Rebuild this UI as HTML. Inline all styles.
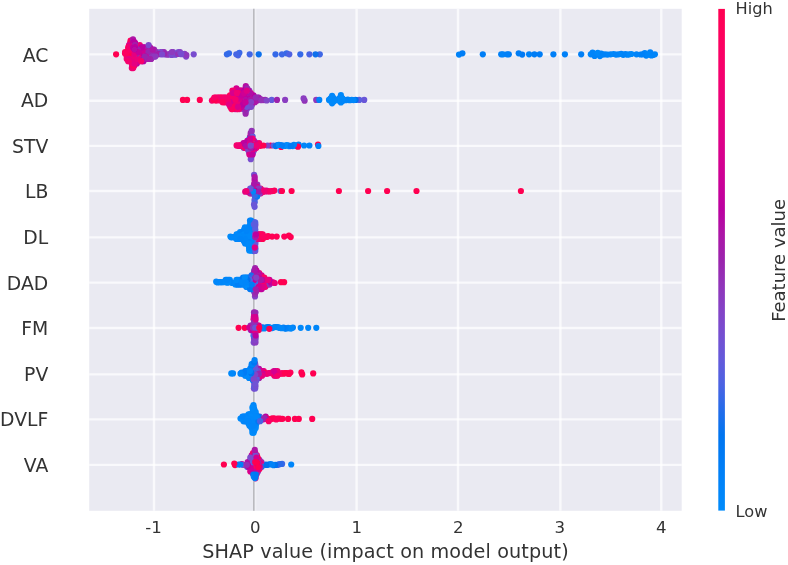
<!DOCTYPE html>
<html><head><meta charset="utf-8"><title>SHAP summary plot</title>
<style>
html,body{margin:0;padding:0;background:#fff;}
body{width:788px;height:565px;overflow:hidden;}
svg{display:block;}
text{font-family:"DejaVu Sans","Liberation Sans",sans-serif;fill:#333;}
.fn{font-size:18.8px;text-anchor:end;}
.tk{font-size:16.6px;text-anchor:middle;}
.xl{font-size:19.2px;text-anchor:middle;letter-spacing:0.13px;}
.cb{font-size:16.2px;}
.cl{font-size:18px;text-anchor:middle;}
</style></head><body>
<svg width="788" height="565" viewBox="0 0 788 565">
<defs><linearGradient id="cb" x1="0" y1="1" x2="0" y2="0">
<stop offset="0.00" stop-color="#008bfb"/>
<stop offset="0.05" stop-color="#0084f9"/>
<stop offset="0.10" stop-color="#007cf5"/>
<stop offset="0.15" stop-color="#0075f0"/>
<stop offset="0.20" stop-color="#246cea"/>
<stop offset="0.25" stop-color="#4b63e3"/>
<stop offset="0.30" stop-color="#635adb"/>
<stop offset="0.35" stop-color="#754fd1"/>
<stop offset="0.40" stop-color="#8443c6"/>
<stop offset="0.45" stop-color="#9135ba"/>
<stop offset="0.50" stop-color="#9b24ad"/>
<stop offset="0.55" stop-color="#ac16a7"/>
<stop offset="0.60" stop-color="#bb00a0"/>
<stop offset="0.65" stop-color="#c90098"/>
<stop offset="0.70" stop-color="#d5008f"/>
<stop offset="0.75" stop-color="#e00086"/>
<stop offset="0.80" stop-color="#e9007c"/>
<stop offset="0.85" stop-color="#f20072"/>
<stop offset="0.90" stop-color="#f90067"/>
<stop offset="0.95" stop-color="#fe005c"/>
<stop offset="1.00" stop-color="#ff0051"/>
</linearGradient><filter id="bl" x="-5%" y="-5%" width="110%" height="110%"><feGaussianBlur stdDeviation="0.45"/></filter></defs>
<rect x="0" y="0" width="788" height="565" fill="#fff"/>
<rect x="89.2" y="8.8" width="592.5" height="502.0" fill="#eaeaf2"/>
<g stroke="#fff" stroke-width="2.4" stroke-opacity="0.72" fill="none">
<line x1="154.0" y1="8.8" x2="154.0" y2="510.8"/>
<line x1="356.6" y1="8.8" x2="356.6" y2="510.8"/>
<line x1="458.0" y1="8.8" x2="458.0" y2="510.8"/>
<line x1="560.4" y1="8.8" x2="560.4" y2="510.8"/>
<line x1="661.3" y1="8.8" x2="661.3" y2="510.8"/>
<line x1="89.2" y1="54.4" x2="681.7" y2="54.4"/>
<line x1="89.2" y1="100.8" x2="681.7" y2="100.8"/>
<line x1="89.2" y1="145.9" x2="681.7" y2="145.9"/>
<line x1="89.2" y1="191.0" x2="681.7" y2="191.0"/>
<line x1="89.2" y1="237.4" x2="681.7" y2="237.4"/>
<line x1="89.2" y1="282.6" x2="681.7" y2="282.6"/>
<line x1="89.2" y1="328.0" x2="681.7" y2="328.0"/>
<line x1="89.2" y1="374.4" x2="681.7" y2="374.4"/>
<line x1="89.2" y1="419.4" x2="681.7" y2="419.4"/>
<line x1="89.2" y1="464.9" x2="681.7" y2="464.9"/>
</g>
<line x1="255.7" y1="8.8" x2="255.7" y2="510.8" stroke="#fff" stroke-width="1.5" stroke-opacity="0.3"/>
<line x1="253.8" y1="8.8" x2="253.8" y2="510.8" stroke="#bababf" stroke-width="1.6"/>
<g filter="url(#bl)">
<g>
<circle cx="631.4" cy="54.0" r="3.1" fill="#008bfb"/>
<circle cx="133.2" cy="47.4" r="3.1" fill="#e30083"/>
<circle cx="126.8" cy="54.3" r="3.1" fill="#ff005c"/>
<circle cx="140.6" cy="53.9" r="3.1" fill="#9f21ac"/>
<circle cx="126.8" cy="56.6" r="3.1" fill="#fc0061"/>
<circle cx="596.4" cy="53.9" r="3.1" fill="#0082f8"/>
<circle cx="160.3" cy="54.1" r="3.1" fill="#8443c6"/>
<circle cx="164.0" cy="52.0" r="3.1" fill="#962eb5"/>
<circle cx="601.2" cy="53.7" r="3.1" fill="#0087fa"/>
<circle cx="138.5" cy="56.6" r="3.1" fill="#bb00a0"/>
<circle cx="590.8" cy="54.3" r="3.1" fill="#0086fa"/>
<circle cx="140.8" cy="52.0" r="3.1" fill="#9d23ad"/>
<circle cx="176.3" cy="54.3" r="3.1" fill="#6e54d5"/>
<circle cx="150.1" cy="56.6" r="3.1" fill="#9431b7"/>
<circle cx="640.5" cy="54.5" r="3.1" fill="#0085f9"/>
<circle cx="131.9" cy="63.5" r="3.1" fill="#e7007f"/>
<circle cx="145.8" cy="58.9" r="3.1" fill="#c1009d"/>
<circle cx="459.0" cy="54.6" r="3.1" fill="#0083f8"/>
<circle cx="136.9" cy="61.2" r="3.1" fill="#cb0096"/>
<circle cx="167.1" cy="54.4" r="3.1" fill="#8a3dc1"/>
<circle cx="599.9" cy="56.1" r="3.1" fill="#0084f9"/>
<circle cx="613.6" cy="54.0" r="3.1" fill="#0087fa"/>
<circle cx="594.6" cy="55.9" r="3.1" fill="#0083f8"/>
<circle cx="153.9" cy="54.8" r="3.1" fill="#8b3cc0"/>
<circle cx="133.1" cy="52.0" r="3.1" fill="#fe005c"/>
<circle cx="134.3" cy="52.0" r="3.1" fill="#fb0064"/>
<circle cx="249.7" cy="54.3" r="3.1" fill="#4366e5"/>
<circle cx="137.2" cy="47.4" r="3.1" fill="#d40090"/>
<circle cx="139.6" cy="52.0" r="3.1" fill="#cd0095"/>
<circle cx="627.3" cy="54.7" r="3.1" fill="#0089fa"/>
<circle cx="156.7" cy="52.0" r="3.1" fill="#9135ba"/>
<circle cx="146.2" cy="53.5" r="3.1" fill="#a81aa8"/>
<circle cx="149.8" cy="49.7" r="3.1" fill="#ac16a7"/>
<circle cx="155.3" cy="52.0" r="3.1" fill="#962db4"/>
<circle cx="173.1" cy="52.0" r="3.1" fill="#8245c8"/>
<circle cx="319.8" cy="54.3" r="3.1" fill="#3f67e6"/>
<circle cx="592.6" cy="52.7" r="3.1" fill="#0084f9"/>
<circle cx="135.6" cy="45.1" r="3.1" fill="#da008b"/>
<circle cx="130.2" cy="42.8" r="3.1" fill="#ff0051"/>
<circle cx="133.0" cy="61.2" r="3.1" fill="#d7008d"/>
<circle cx="610.6" cy="54.3" r="3.1" fill="#0087fa"/>
<circle cx="157.7" cy="54.2" r="3.1" fill="#b30da4"/>
<circle cx="145.9" cy="49.7" r="3.1" fill="#c80098"/>
<circle cx="553.4" cy="54.3" r="3.1" fill="#007ff7"/>
<circle cx="151.2" cy="58.9" r="3.1" fill="#9c23ad"/>
<circle cx="155.0" cy="53.9" r="3.1" fill="#aa18a8"/>
<circle cx="139.9" cy="47.4" r="3.1" fill="#e20084"/>
<circle cx="152.5" cy="56.6" r="3.1" fill="#a51caa"/>
<circle cx="129.1" cy="52.0" r="3.1" fill="#ff0051"/>
<circle cx="462.4" cy="53.3" r="3.1" fill="#007ef6"/>
<circle cx="607.5" cy="54.6" r="3.1" fill="#0084f9"/>
<circle cx="142.2" cy="58.9" r="3.1" fill="#d40090"/>
<circle cx="636.5" cy="54.3" r="3.1" fill="#0084f9"/>
<circle cx="581.2" cy="54.3" r="3.1" fill="#007ff6"/>
<circle cx="145.0" cy="58.9" r="3.1" fill="#cb0096"/>
<circle cx="142.0" cy="61.2" r="3.1" fill="#a81aa9"/>
<circle cx="165.5" cy="54.5" r="3.1" fill="#8047ca"/>
<circle cx="644.8" cy="53.1" r="3.1" fill="#0084f9"/>
<circle cx="128.0" cy="56.6" r="3.1" fill="#ff0059"/>
<circle cx="135.9" cy="58.9" r="3.1" fill="#d8008c"/>
<circle cx="564.9" cy="54.3" r="3.1" fill="#0081f8"/>
<circle cx="140.7" cy="47.4" r="3.1" fill="#c80099"/>
<circle cx="131.8" cy="68.1" r="3.1" fill="#f20071"/>
<circle cx="134.6" cy="58.9" r="3.1" fill="#e8007e"/>
<circle cx="135.6" cy="49.7" r="3.1" fill="#ec0079"/>
<circle cx="130.7" cy="45.1" r="3.1" fill="#ff0057"/>
<circle cx="143.5" cy="47.4" r="3.1" fill="#a020ab"/>
<circle cx="534.4" cy="54.3" r="3.1" fill="#007df5"/>
<circle cx="125.1" cy="52.0" r="3.1" fill="#ff0055"/>
<circle cx="135.7" cy="53.9" r="3.1" fill="#b704a2"/>
<circle cx="238.1" cy="55.3" r="3.1" fill="#4a64e3"/>
<circle cx="143.5" cy="49.7" r="3.1" fill="#cc0096"/>
<circle cx="129.1" cy="56.6" r="3.1" fill="#f20071"/>
<circle cx="134.3" cy="65.8" r="3.1" fill="#f30070"/>
<circle cx="621.2" cy="53.9" r="3.1" fill="#0083f8"/>
<circle cx="162.3" cy="52.0" r="3.1" fill="#9332b7"/>
<circle cx="127.8" cy="58.9" r="3.1" fill="#f5006e"/>
<circle cx="134.5" cy="49.7" r="3.1" fill="#e9007d"/>
<circle cx="138.1" cy="47.4" r="3.1" fill="#d10092"/>
<circle cx="135.6" cy="47.4" r="3.1" fill="#c80098"/>
<circle cx="623.2" cy="54.8" r="3.1" fill="#0086f9"/>
<circle cx="132.0" cy="47.4" r="3.1" fill="#f4006f"/>
<circle cx="131.6" cy="56.6" r="3.1" fill="#f6006b"/>
<circle cx="160.4" cy="52.0" r="3.1" fill="#8047ca"/>
<circle cx="131.7" cy="49.7" r="3.1" fill="#f7006a"/>
<circle cx="652.9" cy="54.9" r="3.1" fill="#0084f9"/>
<circle cx="135.5" cy="61.2" r="3.1" fill="#c0009d"/>
<circle cx="650.2" cy="52.3" r="3.1" fill="#0084f9"/>
<circle cx="135.6" cy="63.5" r="3.1" fill="#ff0058"/>
<circle cx="152.3" cy="54.3" r="3.1" fill="#9c23ad"/>
<circle cx="130.2" cy="56.6" r="3.1" fill="#f20072"/>
<circle cx="130.4" cy="47.4" r="3.1" fill="#fa0064"/>
<circle cx="135.9" cy="56.6" r="3.1" fill="#f5006d"/>
<circle cx="131.9" cy="42.8" r="3.1" fill="#fc0060"/>
<circle cx="258.7" cy="54.3" r="3.1" fill="#096fec"/>
<circle cx="136.9" cy="63.5" r="3.1" fill="#bf009e"/>
<circle cx="300.3" cy="54.3" r="3.1" fill="#3469e8"/>
<circle cx="625.3" cy="54.0" r="3.1" fill="#0084f8"/>
<circle cx="141.1" cy="49.7" r="3.1" fill="#c3009b"/>
<circle cx="147.4" cy="52.0" r="3.1" fill="#9530b6"/>
<circle cx="130.6" cy="53.8" r="3.1" fill="#ff0051"/>
<circle cx="142.1" cy="56.6" r="3.1" fill="#da008b"/>
<circle cx="522.2" cy="54.6" r="3.1" fill="#0079f4"/>
<circle cx="131.5" cy="52.0" r="3.1" fill="#f7006a"/>
<circle cx="148.6" cy="49.7" r="3.1" fill="#9530b6"/>
<circle cx="116.1" cy="54.3" r="3.1" fill="#ff0051"/>
<circle cx="130.7" cy="58.9" r="3.1" fill="#ff005c"/>
<circle cx="178.4" cy="52.0" r="3.1" fill="#7450d2"/>
<circle cx="150.1" cy="54.7" r="3.1" fill="#9928b0"/>
<circle cx="184.6" cy="53.8" r="3.1" fill="#8a3ec1"/>
<circle cx="129.3" cy="61.2" r="3.1" fill="#ff0051"/>
<circle cx="508.8" cy="54.3" r="3.1" fill="#007cf5"/>
<circle cx="133.2" cy="45.1" r="3.1" fill="#f80068"/>
<circle cx="129.3" cy="49.7" r="3.1" fill="#fc0062"/>
<circle cx="156.4" cy="53.8" r="3.1" fill="#a020ac"/>
<circle cx="142.1" cy="54.0" r="3.1" fill="#cf0094"/>
<circle cx="134.5" cy="61.2" r="3.1" fill="#f4006f"/>
<circle cx="148.4" cy="47.4" r="3.1" fill="#b011a5"/>
<circle cx="501.2" cy="54.3" r="3.1" fill="#0080f7"/>
<circle cx="132.8" cy="49.7" r="3.1" fill="#f5006d"/>
<circle cx="143.5" cy="52.0" r="3.1" fill="#a31eab"/>
<circle cx="140.9" cy="56.6" r="3.1" fill="#aa18a8"/>
<circle cx="140.7" cy="58.9" r="3.1" fill="#d00093"/>
<circle cx="315.5" cy="54.3" r="3.1" fill="#0d6fec"/>
<circle cx="135.5" cy="52.0" r="3.1" fill="#f6006c"/>
<circle cx="130.6" cy="40.5" r="3.1" fill="#fe005d"/>
<circle cx="150.0" cy="47.4" r="3.1" fill="#b607a2"/>
<circle cx="175.0" cy="54.7" r="3.1" fill="#6d54d6"/>
<circle cx="179.6" cy="53.9" r="3.1" fill="#9135ba"/>
<circle cx="618.4" cy="54.3" r="3.1" fill="#0087fa"/>
<circle cx="139.6" cy="49.7" r="3.1" fill="#c3009c"/>
<circle cx="151.1" cy="52.0" r="3.1" fill="#962eb4"/>
<circle cx="605.0" cy="54.3" r="3.1" fill="#0085f9"/>
<circle cx="150.0" cy="52.0" r="3.1" fill="#9a27af"/>
<circle cx="133.1" cy="56.6" r="3.1" fill="#ff0058"/>
<circle cx="130.7" cy="52.0" r="3.1" fill="#f20072"/>
<circle cx="482.8" cy="54.3" r="3.1" fill="#007ef6"/>
<circle cx="142.3" cy="52.0" r="3.1" fill="#aa18a8"/>
<circle cx="193.7" cy="54.3" r="3.1" fill="#794dcf"/>
<circle cx="133.2" cy="42.8" r="3.1" fill="#f00074"/>
<circle cx="131.7" cy="45.1" r="3.1" fill="#ff0051"/>
<circle cx="147.7" cy="47.4" r="3.1" fill="#a020ac"/>
<circle cx="151.4" cy="49.7" r="3.1" fill="#af13a6"/>
<circle cx="134.2" cy="47.4" r="3.1" fill="#f80069"/>
<circle cx="133.2" cy="68.1" r="3.1" fill="#f10073"/>
<circle cx="138.5" cy="53.6" r="3.1" fill="#be009e"/>
<circle cx="132.0" cy="61.2" r="3.1" fill="#ea007b"/>
<circle cx="128.0" cy="54.0" r="3.1" fill="#ff0055"/>
<circle cx="154.1" cy="52.0" r="3.1" fill="#9e22ac"/>
<circle cx="226.9" cy="54.3" r="3.1" fill="#3569e8"/>
<circle cx="170.3" cy="53.8" r="3.1" fill="#8e39bd"/>
<circle cx="129.0" cy="45.1" r="3.1" fill="#df0087"/>
<circle cx="128.2" cy="47.4" r="3.1" fill="#ff0059"/>
<circle cx="629.4" cy="54.3" r="3.1" fill="#0088fa"/>
<circle cx="129.2" cy="54.5" r="3.1" fill="#ff0058"/>
<circle cx="529.1" cy="54.3" r="3.1" fill="#0082f8"/>
<circle cx="143.6" cy="56.6" r="3.1" fill="#a61ba9"/>
<circle cx="286.6" cy="53.3" r="3.1" fill="#3769e8"/>
<circle cx="131.5" cy="58.9" r="3.1" fill="#f30070"/>
<circle cx="182.8" cy="54.1" r="3.1" fill="#7e49cb"/>
<circle cx="651.5" cy="55.5" r="3.1" fill="#0085f9"/>
<circle cx="125.0" cy="53.5" r="3.1" fill="#fc0061"/>
<circle cx="137.0" cy="56.6" r="3.1" fill="#ff0055"/>
<circle cx="130.7" cy="61.2" r="3.1" fill="#ff005b"/>
<circle cx="239.4" cy="52.8" r="3.1" fill="#3a68e7"/>
<circle cx="152.5" cy="52.0" r="3.1" fill="#aa18a8"/>
<circle cx="503.0" cy="54.3" r="3.1" fill="#0083f8"/>
<circle cx="132.8" cy="58.9" r="3.1" fill="#e10085"/>
<circle cx="139.8" cy="56.6" r="3.1" fill="#f7006a"/>
<circle cx="145.1" cy="54.1" r="3.1" fill="#c5009a"/>
<circle cx="139.8" cy="45.1" r="3.1" fill="#f00074"/>
<circle cx="158.9" cy="54.1" r="3.1" fill="#a21fab"/>
<circle cx="147.6" cy="56.6" r="3.1" fill="#aa18a8"/>
<circle cx="127.9" cy="52.0" r="3.1" fill="#ff0051"/>
<circle cx="138.5" cy="49.7" r="3.1" fill="#8f37bc"/>
<circle cx="597.8" cy="52.9" r="3.1" fill="#0088fa"/>
<circle cx="155.4" cy="56.6" r="3.1" fill="#8c3bbf"/>
<circle cx="518.7" cy="53.3" r="3.1" fill="#007df5"/>
<circle cx="173.5" cy="54.2" r="3.1" fill="#7c4acd"/>
<circle cx="134.4" cy="42.8" r="3.1" fill="#fa0066"/>
<circle cx="151.4" cy="56.6" r="3.1" fill="#9928b0"/>
<circle cx="151.2" cy="53.8" r="3.1" fill="#972bb3"/>
<circle cx="128.2" cy="49.7" r="3.1" fill="#ff0051"/>
<circle cx="168.5" cy="54.6" r="3.1" fill="#9135ba"/>
<circle cx="154.1" cy="49.7" r="3.1" fill="#962db4"/>
<circle cx="289.3" cy="54.3" r="3.1" fill="#5062e2"/>
<circle cx="133.4" cy="54.3" r="3.1" fill="#f5006e"/>
<circle cx="126.7" cy="58.9" r="3.1" fill="#f4006e"/>
<circle cx="507.0" cy="54.3" r="3.1" fill="#0080f7"/>
<circle cx="138.3" cy="61.2" r="3.1" fill="#c60099"/>
<circle cx="171.6" cy="55.0" r="3.1" fill="#7a4cce"/>
<circle cx="148.6" cy="56.6" r="3.1" fill="#9332b8"/>
<circle cx="139.8" cy="58.9" r="3.1" fill="#db008a"/>
<circle cx="539.7" cy="54.3" r="3.1" fill="#007df6"/>
<circle cx="143.5" cy="61.2" r="3.1" fill="#b705a2"/>
<circle cx="616.0" cy="54.6" r="3.1" fill="#0085f9"/>
<circle cx="236.3" cy="54.3" r="3.1" fill="#4465e5"/>
<circle cx="138.4" cy="58.9" r="3.1" fill="#cf0093"/>
<circle cx="178.1" cy="54.0" r="3.1" fill="#9431b7"/>
<circle cx="129.5" cy="47.4" r="3.1" fill="#f10073"/>
<circle cx="144.9" cy="49.7" r="3.1" fill="#cc0096"/>
<circle cx="646.2" cy="55.6" r="3.1" fill="#0082f8"/>
<circle cx="147.6" cy="55.0" r="3.1" fill="#b803a1"/>
<circle cx="145.8" cy="52.0" r="3.1" fill="#bf009e"/>
<circle cx="171.9" cy="52.0" r="3.1" fill="#8d3abe"/>
<circle cx="144.9" cy="47.4" r="3.1" fill="#bb00a0"/>
<circle cx="143.3" cy="58.9" r="3.1" fill="#b110a5"/>
<circle cx="147.4" cy="49.7" r="3.1" fill="#a41daa"/>
<circle cx="132.1" cy="65.8" r="3.1" fill="#e50081"/>
<circle cx="132.1" cy="54.0" r="3.1" fill="#ff0051"/>
<circle cx="129.3" cy="58.9" r="3.1" fill="#e7007f"/>
<circle cx="137.3" cy="52.0" r="3.1" fill="#f5006d"/>
<circle cx="148.5" cy="53.8" r="3.1" fill="#8d3abe"/>
<circle cx="186.1" cy="56.6" r="3.1" fill="#8047ca"/>
<circle cx="126.7" cy="52.0" r="3.1" fill="#fd0060"/>
<circle cx="654.9" cy="54.3" r="3.1" fill="#0085f9"/>
<circle cx="164.0" cy="53.7" r="3.1" fill="#9a26af"/>
<circle cx="282.0" cy="54.3" r="3.1" fill="#3c68e7"/>
<circle cx="133.1" cy="65.8" r="3.1" fill="#fd005e"/>
<circle cx="309.4" cy="54.3" r="3.1" fill="#4964e4"/>
<circle cx="139.7" cy="54.0" r="3.1" fill="#ea007c"/>
<circle cx="134.4" cy="56.6" r="3.1" fill="#ee0077"/>
<circle cx="275.5" cy="54.3" r="3.1" fill="#3669e8"/>
<circle cx="154.0" cy="56.6" r="3.1" fill="#8f38bd"/>
<circle cx="186.4" cy="55.0" r="3.1" fill="#8f38bc"/>
<circle cx="143.7" cy="54.5" r="3.1" fill="#be009e"/>
<circle cx="142.0" cy="49.7" r="3.1" fill="#c90098"/>
<circle cx="180.0" cy="52.0" r="3.1" fill="#8542c5"/>
<circle cx="144.7" cy="52.0" r="3.1" fill="#ce0094"/>
<circle cx="642.6" cy="54.3" r="3.1" fill="#0081f8"/>
<circle cx="148.6" cy="45.1" r="3.1" fill="#7e49cb"/>
<circle cx="148.5" cy="52.0" r="3.1" fill="#9928b0"/>
<circle cx="148.7" cy="58.9" r="3.1" fill="#9928b0"/>
<circle cx="648.2" cy="54.7" r="3.1" fill="#0086f9"/>
<circle cx="132.8" cy="63.5" r="3.1" fill="#f3006f"/>
<circle cx="145.9" cy="56.6" r="3.1" fill="#c3009b"/>
<circle cx="150.1" cy="58.9" r="3.1" fill="#9d23ad"/>
<circle cx="141.9" cy="47.4" r="3.1" fill="#bc009f"/>
<circle cx="134.6" cy="63.5" r="3.1" fill="#e50081"/>
<circle cx="137.1" cy="58.9" r="3.1" fill="#eb007b"/>
<circle cx="162.1" cy="54.4" r="3.1" fill="#7c4acd"/>
<circle cx="147.5" cy="58.9" r="3.1" fill="#a71ba9"/>
<circle cx="152.8" cy="49.7" r="3.1" fill="#ac16a7"/>
<circle cx="130.7" cy="49.7" r="3.1" fill="#f7006b"/>
<circle cx="136.8" cy="53.5" r="3.1" fill="#9f21ac"/>
<circle cx="137.3" cy="49.7" r="3.1" fill="#9b24ae"/>
<circle cx="229.0" cy="53.3" r="3.1" fill="#316ae9"/>
<circle cx="128.1" cy="61.2" r="3.1" fill="#f5006d"/>
<circle cx="602.6" cy="54.6" r="3.1" fill="#0083f8"/>
<circle cx="134.5" cy="54.0" r="3.1" fill="#e60080"/>
<circle cx="144.8" cy="56.6" r="3.1" fill="#9b24ad"/>
<circle cx="181.2" cy="54.2" r="3.1" fill="#774ed0"/>
<circle cx="134.2" cy="45.1" r="3.1" fill="#fc0061"/>
<circle cx="141.1" cy="61.2" r="3.1" fill="#f7006a"/>
<circle cx="138.5" cy="52.0" r="3.1" fill="#c70099"/>
<circle cx="133.0" cy="39.3" r="3.1" fill="#af13a6"/>
<circle cx="133.7" cy="41.4" r="3.1" fill="#b606a2"/>
<circle cx="133.2" cy="43.5" r="3.1" fill="#b803a1"/>
<circle cx="132.9" cy="45.7" r="3.1" fill="#d8008d"/>
<circle cx="133.1" cy="47.8" r="3.1" fill="#c0009d"/>
<circle cx="135.1" cy="42.8" r="3.1" fill="#ba00a0"/>
<circle cx="135.0" cy="45.0" r="3.1" fill="#a41daa"/>
<circle cx="134.8" cy="47.1" r="3.1" fill="#bc009f"/>
<circle cx="134.5" cy="49.3" r="3.1" fill="#b607a2"/>
</g>
<g>
<circle cx="252.0" cy="95.3" r="3.1" fill="#784dcf"/>
<circle cx="240.8" cy="104.5" r="3.1" fill="#e30083"/>
<circle cx="242.1" cy="93.0" r="3.1" fill="#d30090"/>
<circle cx="243.4" cy="102.2" r="3.1" fill="#c3009b"/>
<circle cx="236.9" cy="109.1" r="3.1" fill="#ed0078"/>
<circle cx="243.1" cy="95.3" r="3.1" fill="#da008b"/>
<circle cx="235.1" cy="109.1" r="3.1" fill="#d8008d"/>
<circle cx="226.2" cy="100.2" r="3.1" fill="#fc0061"/>
<circle cx="244.6" cy="109.1" r="3.1" fill="#eb007b"/>
<circle cx="243.0" cy="93.0" r="3.1" fill="#aa18a8"/>
<circle cx="231.5" cy="99.5" r="3.1" fill="#f4006f"/>
<circle cx="245.7" cy="111.4" r="3.1" fill="#b20ea4"/>
<circle cx="241.7" cy="104.5" r="3.1" fill="#c2009c"/>
<circle cx="231.5" cy="102.2" r="3.1" fill="#eb007a"/>
<circle cx="249.5" cy="95.3" r="3.1" fill="#9a27af"/>
<circle cx="332.1" cy="103.3" r="3.1" fill="#0086f9"/>
<circle cx="351.8" cy="99.9" r="3.1" fill="#0088fa"/>
<circle cx="330.6" cy="98.3" r="3.1" fill="#0083f8"/>
<circle cx="248.2" cy="99.7" r="3.1" fill="#9f21ac"/>
<circle cx="228.6" cy="100.6" r="3.1" fill="#fc0061"/>
<circle cx="340.9" cy="102.5" r="3.1" fill="#008afb"/>
<circle cx="223.8" cy="99.2" r="3.1" fill="#ff005b"/>
<circle cx="230.2" cy="106.8" r="3.1" fill="#f4006e"/>
<circle cx="235.5" cy="93.0" r="3.1" fill="#f90066"/>
<circle cx="252.2" cy="102.2" r="3.1" fill="#8840c3"/>
<circle cx="223.6" cy="97.6" r="3.1" fill="#fb0064"/>
<circle cx="232.5" cy="109.1" r="3.1" fill="#ff0053"/>
<circle cx="230.4" cy="99.9" r="3.1" fill="#ff0051"/>
<circle cx="233.7" cy="95.3" r="3.1" fill="#ec0079"/>
<circle cx="250.9" cy="97.6" r="3.1" fill="#962eb4"/>
<circle cx="217.3" cy="100.5" r="3.1" fill="#f7006b"/>
<circle cx="238.1" cy="104.5" r="3.1" fill="#dc0089"/>
<circle cx="240.5" cy="95.3" r="3.1" fill="#eb007a"/>
<circle cx="241.6" cy="99.4" r="3.1" fill="#ed0078"/>
<circle cx="245.5" cy="88.4" r="3.1" fill="#cb0096"/>
<circle cx="246.0" cy="106.8" r="3.1" fill="#cd0095"/>
<circle cx="242.1" cy="102.2" r="3.1" fill="#d10092"/>
<circle cx="342.5" cy="100.9" r="3.1" fill="#0087fa"/>
<circle cx="316.2" cy="99.9" r="3.1" fill="#8f37bc"/>
<circle cx="240.8" cy="106.8" r="3.1" fill="#df0086"/>
<circle cx="245.6" cy="113.7" r="3.1" fill="#9a27af"/>
<circle cx="236.5" cy="102.2" r="3.1" fill="#ef0075"/>
<circle cx="246.7" cy="102.2" r="3.1" fill="#8c3bbf"/>
<circle cx="228.9" cy="102.2" r="3.1" fill="#ff0051"/>
<circle cx="230.0" cy="95.3" r="3.1" fill="#ff0051"/>
<circle cx="240.6" cy="90.7" r="3.1" fill="#cb0096"/>
<circle cx="349.8" cy="100.2" r="3.1" fill="#0086f9"/>
<circle cx="218.1" cy="99.7" r="3.1" fill="#ff0057"/>
<circle cx="251.0" cy="104.5" r="3.1" fill="#d9008c"/>
<circle cx="244.6" cy="95.3" r="3.1" fill="#ad15a6"/>
<circle cx="211.9" cy="100.6" r="3.1" fill="#f5006d"/>
<circle cx="234.3" cy="102.2" r="3.1" fill="#ff0057"/>
<circle cx="240.4" cy="102.2" r="3.1" fill="#d10092"/>
<circle cx="249.4" cy="106.8" r="3.1" fill="#b804a1"/>
<circle cx="238.1" cy="100.6" r="3.1" fill="#ba00a0"/>
<circle cx="235.5" cy="95.3" r="3.1" fill="#da008b"/>
<circle cx="256.3" cy="100.5" r="3.1" fill="#b30da4"/>
<circle cx="248.1" cy="95.3" r="3.1" fill="#9333b8"/>
<circle cx="240.3" cy="93.0" r="3.1" fill="#d9008c"/>
<circle cx="225.9" cy="102.2" r="3.1" fill="#f6006c"/>
<circle cx="340.9" cy="97.5" r="3.1" fill="#0084f9"/>
<circle cx="245.6" cy="104.5" r="3.1" fill="#a61ca9"/>
<circle cx="236.6" cy="90.7" r="3.1" fill="#e10084"/>
<circle cx="231.5" cy="109.1" r="3.1" fill="#fd005e"/>
<circle cx="243.1" cy="109.1" r="3.1" fill="#9234b9"/>
<circle cx="247.2" cy="93.0" r="3.1" fill="#893ec2"/>
<circle cx="249.3" cy="90.7" r="3.1" fill="#8b3dc1"/>
<circle cx="252.1" cy="97.6" r="3.1" fill="#c3009b"/>
<circle cx="237.9" cy="95.3" r="3.1" fill="#e7007f"/>
<circle cx="231.4" cy="97.6" r="3.1" fill="#f30070"/>
<circle cx="234.0" cy="97.6" r="3.1" fill="#f30071"/>
<circle cx="236.6" cy="95.3" r="3.1" fill="#cd0095"/>
<circle cx="250.9" cy="95.3" r="3.1" fill="#b20da4"/>
<circle cx="235.4" cy="102.2" r="3.1" fill="#ef0075"/>
<circle cx="258.7" cy="97.6" r="3.1" fill="#962eb5"/>
<circle cx="233.8" cy="100.3" r="3.1" fill="#f10073"/>
<circle cx="232.9" cy="95.3" r="3.1" fill="#e8007e"/>
<circle cx="364.2" cy="99.9" r="3.1" fill="#6957d8"/>
<circle cx="253.3" cy="97.6" r="3.1" fill="#a51daa"/>
<circle cx="232.7" cy="102.2" r="3.1" fill="#fa0065"/>
<circle cx="235.3" cy="97.6" r="3.1" fill="#eb007a"/>
<circle cx="242.0" cy="97.6" r="3.1" fill="#d9008c"/>
<circle cx="257.7" cy="97.6" r="3.1" fill="#9b24ae"/>
<circle cx="243.4" cy="97.6" r="3.1" fill="#cb0096"/>
<circle cx="248.0" cy="93.0" r="3.1" fill="#c70099"/>
<circle cx="236.4" cy="88.4" r="3.1" fill="#d20091"/>
<circle cx="247.0" cy="109.1" r="3.1" fill="#794cce"/>
<circle cx="182.9" cy="99.9" r="3.1" fill="#ff0051"/>
<circle cx="239.3" cy="109.1" r="3.1" fill="#e30083"/>
<circle cx="304.6" cy="100.7" r="3.1" fill="#9233b8"/>
<circle cx="249.8" cy="102.2" r="3.1" fill="#a020ab"/>
<circle cx="232.6" cy="106.8" r="3.1" fill="#f80069"/>
<circle cx="220.8" cy="100.6" r="3.1" fill="#fc0062"/>
<circle cx="232.6" cy="104.5" r="3.1" fill="#f00074"/>
<circle cx="246.7" cy="104.5" r="3.1" fill="#cb0096"/>
<circle cx="244.7" cy="97.6" r="3.1" fill="#b010a5"/>
<circle cx="221.0" cy="97.6" r="3.1" fill="#fd005f"/>
<circle cx="241.6" cy="90.7" r="3.1" fill="#d8008d"/>
<circle cx="340.9" cy="99.9" r="3.1" fill="#0088fa"/>
<circle cx="219.8" cy="99.5" r="3.1" fill="#fe005e"/>
<circle cx="245.7" cy="97.6" r="3.1" fill="#d20092"/>
<circle cx="234.0" cy="104.5" r="3.1" fill="#f00074"/>
<circle cx="359.2" cy="99.9" r="3.1" fill="#5b5dde"/>
<circle cx="248.1" cy="104.5" r="3.1" fill="#9233b9"/>
<circle cx="344.0" cy="99.9" r="3.1" fill="#0088fa"/>
<circle cx="260.2" cy="99.2" r="3.1" fill="#a61caa"/>
<circle cx="248.3" cy="90.7" r="3.1" fill="#c0009d"/>
<circle cx="238.0" cy="97.6" r="3.1" fill="#f4006f"/>
<circle cx="235.2" cy="90.7" r="3.1" fill="#f4006f"/>
<circle cx="249.8" cy="100.5" r="3.1" fill="#a21fab"/>
<circle cx="236.9" cy="97.6" r="3.1" fill="#cc0096"/>
<circle cx="231.3" cy="95.3" r="3.1" fill="#ff0058"/>
<circle cx="239.5" cy="102.2" r="3.1" fill="#ea007c"/>
<circle cx="243.1" cy="106.8" r="3.1" fill="#c2009c"/>
<circle cx="237.9" cy="102.2" r="3.1" fill="#f70069"/>
<circle cx="213.2" cy="99.5" r="3.1" fill="#ff005b"/>
<circle cx="225.1" cy="102.2" r="3.1" fill="#f7006a"/>
<circle cx="252.2" cy="99.8" r="3.1" fill="#a021ac"/>
<circle cx="247.0" cy="97.6" r="3.1" fill="#b40ba3"/>
<circle cx="253.7" cy="102.2" r="3.1" fill="#9e22ac"/>
<circle cx="225.9" cy="97.6" r="3.1" fill="#ff0057"/>
<circle cx="232.9" cy="99.7" r="3.1" fill="#ee0077"/>
<circle cx="330.8" cy="101.3" r="3.1" fill="#008bfb"/>
<circle cx="347.8" cy="99.7" r="3.1" fill="#0086f9"/>
<circle cx="215.6" cy="97.6" r="3.1" fill="#fc0060"/>
<circle cx="271.7" cy="99.9" r="3.1" fill="#635adb"/>
<circle cx="332.1" cy="98.2" r="3.1" fill="#0084f9"/>
<circle cx="235.1" cy="104.5" r="3.1" fill="#c6009a"/>
<circle cx="249.5" cy="104.5" r="3.1" fill="#7350d2"/>
<circle cx="225.1" cy="99.6" r="3.1" fill="#f20071"/>
<circle cx="236.6" cy="100.1" r="3.1" fill="#fe005d"/>
<circle cx="355.6" cy="99.9" r="3.1" fill="#0071ee"/>
<circle cx="245.9" cy="90.7" r="3.1" fill="#e30083"/>
<circle cx="244.6" cy="106.8" r="3.1" fill="#d7008e"/>
<circle cx="353.6" cy="100.1" r="3.1" fill="#0087fa"/>
<circle cx="244.2" cy="104.5" r="3.1" fill="#c70099"/>
<circle cx="332.1" cy="95.9" r="3.1" fill="#0087fa"/>
<circle cx="228.9" cy="97.6" r="3.1" fill="#fa0064"/>
<circle cx="340.9" cy="95.2" r="3.1" fill="#0088fa"/>
<circle cx="239.1" cy="100.4" r="3.1" fill="#d5008f"/>
<circle cx="345.8" cy="100.2" r="3.1" fill="#0085f9"/>
<circle cx="332.1" cy="100.5" r="3.1" fill="#0089fa"/>
<circle cx="229.9" cy="104.5" r="3.1" fill="#fb0063"/>
<circle cx="329.0" cy="99.9" r="3.1" fill="#0089fa"/>
<circle cx="248.1" cy="102.2" r="3.1" fill="#c5009a"/>
<circle cx="264.0" cy="100.1" r="3.1" fill="#883fc3"/>
<circle cx="218.4" cy="97.6" r="3.1" fill="#ff005b"/>
<circle cx="236.5" cy="106.8" r="3.1" fill="#d40090"/>
<circle cx="239.2" cy="90.7" r="3.1" fill="#de0088"/>
<circle cx="257.2" cy="100.5" r="3.1" fill="#9a25ae"/>
<circle cx="244.2" cy="100.0" r="3.1" fill="#8a3ec1"/>
<circle cx="230.3" cy="97.6" r="3.1" fill="#f00074"/>
<circle cx="233.8" cy="106.8" r="3.1" fill="#fc0061"/>
<circle cx="239.1" cy="95.3" r="3.1" fill="#d20091"/>
<circle cx="249.6" cy="97.6" r="3.1" fill="#7a4cce"/>
<circle cx="236.7" cy="104.5" r="3.1" fill="#ec0079"/>
<circle cx="248.0" cy="106.8" r="3.1" fill="#a020ac"/>
<circle cx="223.7" cy="102.2" r="3.1" fill="#fd005f"/>
<circle cx="339.4" cy="98.4" r="3.1" fill="#0087fa"/>
<circle cx="231.3" cy="104.5" r="3.1" fill="#fb0063"/>
<circle cx="187.1" cy="99.9" r="3.1" fill="#ff0051"/>
<circle cx="255.0" cy="97.6" r="3.1" fill="#8840c3"/>
<circle cx="258.6" cy="99.4" r="3.1" fill="#ad15a6"/>
<circle cx="285.1" cy="99.9" r="3.1" fill="#8a3ec1"/>
<circle cx="232.7" cy="97.6" r="3.1" fill="#f80069"/>
<circle cx="254.6" cy="99.6" r="3.1" fill="#8f38bc"/>
<circle cx="245.7" cy="95.3" r="3.1" fill="#9f21ac"/>
<circle cx="252.1" cy="104.5" r="3.1" fill="#8a3dc1"/>
<circle cx="238.9" cy="93.0" r="3.1" fill="#db008a"/>
<circle cx="319.3" cy="99.9" r="3.1" fill="#0084f9"/>
<circle cx="230.4" cy="102.2" r="3.1" fill="#d40090"/>
<circle cx="250.7" cy="93.0" r="3.1" fill="#cb0096"/>
<circle cx="238.1" cy="90.7" r="3.1" fill="#d00093"/>
<circle cx="342.4" cy="98.4" r="3.1" fill="#0089fa"/>
<circle cx="222.0" cy="97.6" r="3.1" fill="#fd005f"/>
<circle cx="339.5" cy="101.1" r="3.1" fill="#0086f9"/>
<circle cx="199.8" cy="99.9" r="3.1" fill="#ff0051"/>
<circle cx="245.6" cy="109.1" r="3.1" fill="#9d22ad"/>
<circle cx="253.5" cy="100.0" r="3.1" fill="#cf0093"/>
<circle cx="239.5" cy="97.6" r="3.1" fill="#d40090"/>
<circle cx="337.8" cy="99.9" r="3.1" fill="#0089fa"/>
<circle cx="243.4" cy="100.7" r="3.1" fill="#d20092"/>
<circle cx="247.2" cy="100.7" r="3.1" fill="#8e39bd"/>
<circle cx="333.6" cy="98.1" r="3.1" fill="#0088fa"/>
<circle cx="253.5" cy="95.3" r="3.1" fill="#b606a2"/>
<circle cx="232.4" cy="90.7" r="3.1" fill="#f4006f"/>
<circle cx="245.8" cy="93.0" r="3.1" fill="#aa18a8"/>
<circle cx="248.4" cy="97.6" r="3.1" fill="#ca0097"/>
<circle cx="239.0" cy="106.8" r="3.1" fill="#ff0051"/>
<circle cx="227.5" cy="100.1" r="3.1" fill="#f5006d"/>
<circle cx="240.4" cy="100.6" r="3.1" fill="#d5008f"/>
<circle cx="235.3" cy="106.8" r="3.1" fill="#fb0063"/>
<circle cx="262.4" cy="99.8" r="3.1" fill="#9332b8"/>
<circle cx="265.1" cy="99.9" r="3.1" fill="#9a26ae"/>
<circle cx="244.7" cy="102.2" r="3.1" fill="#c60099"/>
<circle cx="227.4" cy="97.6" r="3.1" fill="#f5006d"/>
<circle cx="233.9" cy="93.0" r="3.1" fill="#f10073"/>
<circle cx="261.2" cy="100.2" r="3.1" fill="#9431b6"/>
<circle cx="232.9" cy="93.0" r="3.1" fill="#d7008e"/>
<circle cx="336.4" cy="100.1" r="3.1" fill="#008bfb"/>
<circle cx="245.8" cy="86.1" r="3.1" fill="#b30da4"/>
<circle cx="219.8" cy="97.6" r="3.1" fill="#ff005b"/>
<circle cx="239.0" cy="104.5" r="3.1" fill="#ed0078"/>
<circle cx="222.5" cy="99.9" r="3.1" fill="#f3006f"/>
<circle cx="247.0" cy="95.3" r="3.1" fill="#be009e"/>
<circle cx="227.8" cy="102.2" r="3.1" fill="#f6006c"/>
<circle cx="266.7" cy="100.5" r="3.1" fill="#8245c8"/>
<circle cx="249.4" cy="93.0" r="3.1" fill="#b011a5"/>
<circle cx="245.7" cy="100.3" r="3.1" fill="#b30ca4"/>
<circle cx="335.0" cy="99.9" r="3.1" fill="#0087fa"/>
<circle cx="251.2" cy="106.8" r="3.1" fill="#8047c9"/>
<circle cx="217.2" cy="97.6" r="3.1" fill="#f10072"/>
<circle cx="333.7" cy="101.5" r="3.1" fill="#0089fa"/>
<circle cx="224.7" cy="97.6" r="3.1" fill="#f6006c"/>
<circle cx="240.2" cy="97.6" r="3.1" fill="#d10092"/>
<circle cx="246.9" cy="106.8" r="3.1" fill="#754fd1"/>
<circle cx="277.0" cy="99.9" r="3.1" fill="#9b24ad"/>
<circle cx="250.8" cy="99.7" r="3.1" fill="#ab17a7"/>
<circle cx="215.8" cy="100.3" r="3.1" fill="#fc0061"/>
<circle cx="254.9" cy="102.2" r="3.1" fill="#ac16a7"/>
<circle cx="241.6" cy="106.8" r="3.1" fill="#c90098"/>
<circle cx="242.8" cy="104.5" r="3.1" fill="#bc009f"/>
<circle cx="231.1" cy="106.8" r="3.1" fill="#fa0065"/>
<circle cx="237.7" cy="109.1" r="3.1" fill="#f90067"/>
<circle cx="237.7" cy="93.0" r="3.1" fill="#fb0064"/>
<circle cx="214.6" cy="100.2" r="3.1" fill="#ff0051"/>
<circle cx="237.9" cy="106.8" r="3.1" fill="#d8008c"/>
<circle cx="244.2" cy="90.7" r="3.1" fill="#b802a1"/>
<circle cx="251.0" cy="102.2" r="3.1" fill="#8741c4"/>
<circle cx="241.8" cy="95.3" r="3.1" fill="#c6009a"/>
<circle cx="255.8" cy="97.6" r="3.1" fill="#972cb3"/>
<circle cx="247.2" cy="88.4" r="3.1" fill="#9b25ae"/>
<circle cx="229.1" cy="104.5" r="3.1" fill="#e30083"/>
<circle cx="244.1" cy="93.0" r="3.1" fill="#cf0094"/>
<circle cx="214.3" cy="97.6" r="3.1" fill="#f90066"/>
<circle cx="303.6" cy="98.4" r="3.1" fill="#8b3cc0"/>
<circle cx="246.8" cy="90.7" r="3.1" fill="#df0086"/>
<circle cx="235.5" cy="99.7" r="3.1" fill="#f5006e"/>
<circle cx="245.5" cy="102.2" r="3.1" fill="#c90098"/>
<circle cx="222.5" cy="102.2" r="3.1" fill="#ff005b"/>
<circle cx="236.9" cy="93.0" r="3.1" fill="#f00074"/>
</g>
<g>
<circle cx="253.4" cy="143.2" r="3.1" fill="#ff0051"/>
<circle cx="243.6" cy="147.8" r="3.1" fill="#8b3cc0"/>
<circle cx="295.8" cy="145.7" r="3.1" fill="#0084f9"/>
<circle cx="296.7" cy="146.1" r="3.1" fill="#0088fa"/>
<circle cx="254.1" cy="150.1" r="3.1" fill="#c90097"/>
<circle cx="240.1" cy="145.1" r="3.1" fill="#f80069"/>
<circle cx="246.2" cy="147.8" r="3.1" fill="#9431b7"/>
<circle cx="249.4" cy="140.9" r="3.1" fill="#0070ed"/>
<circle cx="280.3" cy="145.2" r="3.1" fill="#007ff6"/>
<circle cx="253.1" cy="152.2" r="3.1" fill="#6459da"/>
<circle cx="237.5" cy="145.5" r="3.1" fill="#f6006c"/>
<circle cx="242.2" cy="146.1" r="3.1" fill="#b110a5"/>
<circle cx="249.4" cy="146.2" r="3.1" fill="#9e22ac"/>
<circle cx="270.6" cy="145.5" r="3.1" fill="#ff0051"/>
<circle cx="247.2" cy="147.8" r="3.1" fill="#b012a5"/>
<circle cx="257.9" cy="145.3" r="3.1" fill="#db008a"/>
<circle cx="250.7" cy="137.9" r="3.1" fill="#7b4bcd"/>
<circle cx="251.3" cy="135.6" r="3.1" fill="#8344c7"/>
<circle cx="250.1" cy="136.5" r="3.1" fill="#dc0089"/>
<circle cx="281.2" cy="147.0" r="3.1" fill="#ff0051"/>
<circle cx="248.4" cy="147.8" r="3.1" fill="#794cce"/>
<circle cx="250.1" cy="147.7" r="3.1" fill="#a31eaa"/>
<circle cx="252.6" cy="141.0" r="3.1" fill="#cc0096"/>
<circle cx="250.7" cy="133.2" r="3.1" fill="#a120ab"/>
<circle cx="284.8" cy="146.0" r="3.1" fill="#0082f8"/>
<circle cx="249.7" cy="152.2" r="3.1" fill="#595edf"/>
<circle cx="277.4" cy="145.2" r="3.1" fill="#0078f3"/>
<circle cx="273.6" cy="145.5" r="3.1" fill="#635adb"/>
<circle cx="256.4" cy="143.2" r="3.1" fill="#aa18a8"/>
<circle cx="251.5" cy="147.4" r="3.1" fill="#316ae9"/>
<circle cx="252.7" cy="136.5" r="3.1" fill="#605bdc"/>
<circle cx="251.9" cy="150.1" r="3.1" fill="#a21fab"/>
<circle cx="252.8" cy="150.1" r="3.1" fill="#e00086"/>
<circle cx="249.7" cy="147.8" r="3.1" fill="#cf0094"/>
<circle cx="252.2" cy="140.9" r="3.1" fill="#8c3bbf"/>
<circle cx="253.1" cy="143.2" r="3.1" fill="#fe005d"/>
<circle cx="251.7" cy="130.9" r="3.1" fill="#9431b7"/>
<circle cx="254.4" cy="143.2" r="3.1" fill="#cf0094"/>
<circle cx="288.0" cy="145.4" r="3.1" fill="#0082f8"/>
<circle cx="247.1" cy="145.7" r="3.1" fill="#9b25ae"/>
<circle cx="248.6" cy="143.2" r="3.1" fill="#ca0097"/>
<circle cx="248.2" cy="145.4" r="3.1" fill="#e7007f"/>
<circle cx="250.6" cy="145.0" r="3.1" fill="#7251d3"/>
<circle cx="250.7" cy="154.4" r="3.1" fill="#982ab1"/>
<circle cx="236.6" cy="145.4" r="3.1" fill="#f5006d"/>
<circle cx="253.1" cy="147.8" r="3.1" fill="#dd0089"/>
<circle cx="249.3" cy="150.1" r="3.1" fill="#af13a6"/>
<circle cx="244.7" cy="143.2" r="3.1" fill="#e9007c"/>
<circle cx="255.8" cy="145.0" r="3.1" fill="#e40082"/>
<circle cx="255.7" cy="147.8" r="3.1" fill="#d9008c"/>
<circle cx="250.1" cy="150.0" r="3.1" fill="#c4009b"/>
<circle cx="267.5" cy="145.5" r="3.1" fill="#8443c6"/>
<circle cx="251.0" cy="142.7" r="3.1" fill="#b40aa3"/>
<circle cx="251.2" cy="156.8" r="3.1" fill="#7152d4"/>
<circle cx="241.0" cy="145.8" r="3.1" fill="#e40081"/>
<circle cx="292.7" cy="146.1" r="3.1" fill="#008bfb"/>
<circle cx="247.2" cy="143.2" r="3.1" fill="#8245c8"/>
<circle cx="289.3" cy="146.2" r="3.1" fill="#008bfb"/>
<circle cx="298.6" cy="144.7" r="3.1" fill="#0081f8"/>
<circle cx="259.1" cy="143.2" r="3.1" fill="#f5006d"/>
<circle cx="244.5" cy="145.9" r="3.1" fill="#d20091"/>
<circle cx="254.4" cy="146.1" r="3.1" fill="#c3009b"/>
<circle cx="249.4" cy="143.2" r="3.1" fill="#e00086"/>
<circle cx="256.4" cy="147.8" r="3.1" fill="#ea007b"/>
<circle cx="252.7" cy="147.7" r="3.1" fill="#e6007f"/>
<circle cx="298.0" cy="146.7" r="3.1" fill="#ff0051"/>
<circle cx="248.0" cy="140.9" r="3.1" fill="#7f48ca"/>
<circle cx="243.6" cy="145.3" r="3.1" fill="#7052d4"/>
<circle cx="252.6" cy="145.5" r="3.1" fill="#c6009a"/>
<circle cx="251.2" cy="140.3" r="3.1" fill="#8047c9"/>
<circle cx="286.4" cy="145.2" r="3.1" fill="#008bfb"/>
<circle cx="293.9" cy="144.8" r="3.1" fill="#0084f9"/>
<circle cx="250.9" cy="149.7" r="3.1" fill="#8d3abe"/>
<circle cx="249.3" cy="152.4" r="3.1" fill="#b110a5"/>
<circle cx="318.0" cy="144.5" r="3.1" fill="#ff0051"/>
<circle cx="249.4" cy="138.6" r="3.1" fill="#007af4"/>
<circle cx="254.2" cy="147.8" r="3.1" fill="#b802a1"/>
<circle cx="244.8" cy="147.8" r="3.1" fill="#fb0063"/>
<circle cx="245.7" cy="143.2" r="3.1" fill="#c70099"/>
<circle cx="250.9" cy="150.1" r="3.1" fill="#7052d4"/>
<circle cx="275.8" cy="146.1" r="3.1" fill="#0074f0"/>
<circle cx="250.6" cy="143.2" r="3.1" fill="#d8008c"/>
<circle cx="250.8" cy="159.2" r="3.1" fill="#794dcf"/>
<circle cx="250.5" cy="140.9" r="3.1" fill="#982ab2"/>
<circle cx="251.4" cy="152.1" r="3.1" fill="#ac16a7"/>
<circle cx="309.4" cy="145.5" r="3.1" fill="#0084f9"/>
<circle cx="252.6" cy="150.0" r="3.1" fill="#e6007f"/>
<circle cx="252.1" cy="147.8" r="3.1" fill="#ba00a0"/>
<circle cx="249.5" cy="141.0" r="3.1" fill="#7d49cc"/>
<circle cx="243.5" cy="143.2" r="3.1" fill="#c1009c"/>
<circle cx="283.5" cy="145.9" r="3.1" fill="#008bfb"/>
<circle cx="248.1" cy="150.1" r="3.1" fill="#8a3dc1"/>
<circle cx="260.4" cy="145.8" r="3.1" fill="#ff0058"/>
<circle cx="254.2" cy="140.9" r="3.1" fill="#9530b6"/>
<circle cx="252.9" cy="140.9" r="3.1" fill="#dc008a"/>
<circle cx="278.9" cy="144.9" r="3.1" fill="#0089fa"/>
<circle cx="249.6" cy="145.5" r="3.1" fill="#de0088"/>
<circle cx="255.3" cy="143.2" r="3.1" fill="#d8008c"/>
<circle cx="247.3" cy="140.9" r="3.1" fill="#ba00a0"/>
<circle cx="251.6" cy="143.2" r="3.1" fill="#7b4bcd"/>
<circle cx="252.9" cy="145.2" r="3.1" fill="#ff0051"/>
<circle cx="258.8" cy="145.1" r="3.1" fill="#f90067"/>
<circle cx="252.5" cy="138.7" r="3.1" fill="#f5006e"/>
<circle cx="245.9" cy="145.9" r="3.1" fill="#b20ea4"/>
<circle cx="252.0" cy="145.5" r="3.1" fill="#7450d2"/>
<circle cx="263.4" cy="145.5" r="3.1" fill="#ff0051"/>
<circle cx="282.0" cy="145.3" r="3.1" fill="#007ff7"/>
<circle cx="250.6" cy="147.8" r="3.1" fill="#a31eab"/>
<circle cx="304.1" cy="145.5" r="3.1" fill="#0086f9"/>
<circle cx="239.0" cy="145.9" r="3.1" fill="#f10073"/>
<circle cx="250.1" cy="143.2" r="3.1" fill="#df0087"/>
<circle cx="290.8" cy="145.9" r="3.1" fill="#007bf5"/>
<circle cx="249.4" cy="154.5" r="3.1" fill="#da008b"/>
<circle cx="252.6" cy="154.5" r="3.1" fill="#c2009c"/>
<circle cx="256.4" cy="145.7" r="3.1" fill="#ec0079"/>
<circle cx="250.1" cy="138.7" r="3.1" fill="#cf0094"/>
<circle cx="250.7" cy="145.6" r="3.1" fill="#7c4acc"/>
<circle cx="318.4" cy="146.0" r="3.1" fill="#0085f9"/>
</g>
<g>
<circle cx="260.6" cy="188.7" r="3.1" fill="#ff0051"/>
<circle cx="255.7" cy="193.3" r="3.1" fill="#a919a8"/>
<circle cx="251.1" cy="191.8" r="3.1" fill="#8e39be"/>
<circle cx="274.4" cy="190.5" r="3.1" fill="#fd005f"/>
<circle cx="257.3" cy="188.7" r="3.1" fill="#7c4acd"/>
<circle cx="260.8" cy="193.3" r="3.1" fill="#e20084"/>
<circle cx="257.3" cy="193.3" r="3.1" fill="#b802a1"/>
<circle cx="254.4" cy="193.1" r="3.1" fill="#df0087"/>
<circle cx="256.0" cy="190.7" r="3.1" fill="#c5009a"/>
<circle cx="257.0" cy="189.3" r="3.1" fill="#4964e4"/>
<circle cx="252.7" cy="191.3" r="3.1" fill="#6d54d5"/>
<circle cx="255.1" cy="197.7" r="3.1" fill="#9036bb"/>
<circle cx="254.5" cy="200.0" r="3.1" fill="#6359db"/>
<circle cx="267.8" cy="191.2" r="3.1" fill="#f10073"/>
<circle cx="257.4" cy="191.7" r="3.1" fill="#8c3cc0"/>
<circle cx="252.5" cy="188.7" r="3.1" fill="#0074f0"/>
<circle cx="273.0" cy="191.0" r="3.1" fill="#ff005a"/>
<circle cx="265.8" cy="191.5" r="3.1" fill="#e9007d"/>
<circle cx="266.5" cy="190.7" r="3.1" fill="#dd0089"/>
<circle cx="249.9" cy="193.3" r="3.1" fill="#e8007e"/>
<circle cx="254.8" cy="188.7" r="3.1" fill="#b607a2"/>
<circle cx="254.7" cy="202.3" r="3.1" fill="#4964e4"/>
<circle cx="254.8" cy="181.7" r="3.1" fill="#ee0077"/>
<circle cx="263.3" cy="191.8" r="3.1" fill="#f5006d"/>
<circle cx="254.5" cy="193.3" r="3.1" fill="#bb00a0"/>
<circle cx="245.2" cy="191.7" r="3.1" fill="#e40082"/>
<circle cx="253.6" cy="193.3" r="3.1" fill="#9234b9"/>
<circle cx="254.6" cy="206.8" r="3.1" fill="#6857d8"/>
<circle cx="252.5" cy="193.3" r="3.1" fill="#a120ab"/>
<circle cx="254.3" cy="188.6" r="3.1" fill="#8047c9"/>
<circle cx="258.1" cy="193.3" r="3.1" fill="#5a5dde"/>
<circle cx="257.3" cy="184.5" r="3.1" fill="#972cb3"/>
<circle cx="257.4" cy="194.1" r="3.1" fill="#0085f9"/>
<circle cx="256.9" cy="191.5" r="3.1" fill="#a41daa"/>
<circle cx="259.7" cy="193.3" r="3.1" fill="#893ec2"/>
<circle cx="271.1" cy="191.2" r="3.1" fill="#fc0061"/>
<circle cx="247.7" cy="191.5" r="3.1" fill="#b20da4"/>
<circle cx="254.6" cy="190.7" r="3.1" fill="#a21fab"/>
<circle cx="250.1" cy="190.7" r="3.1" fill="#ca0097"/>
<circle cx="260.6" cy="190.7" r="3.1" fill="#be009e"/>
<circle cx="253.5" cy="186.3" r="3.1" fill="#7b4bcd"/>
<circle cx="257.1" cy="196.5" r="3.1" fill="#007af4"/>
<circle cx="251.1" cy="193.3" r="3.1" fill="#9928b0"/>
<circle cx="253.5" cy="188.7" r="3.1" fill="#8c3bbf"/>
<circle cx="256.1" cy="188.7" r="3.1" fill="#7b4bcd"/>
<circle cx="259.7" cy="188.7" r="3.1" fill="#794ccf"/>
<circle cx="254.6" cy="179.4" r="3.1" fill="#b110a5"/>
<circle cx="262.1" cy="190.3" r="3.1" fill="#da008b"/>
<circle cx="251.2" cy="188.7" r="3.1" fill="#286cea"/>
<circle cx="257.0" cy="186.9" r="3.1" fill="#d8008d"/>
<circle cx="258.1" cy="191.1" r="3.1" fill="#595edf"/>
<circle cx="280.5" cy="191.0" r="3.1" fill="#635adb"/>
<circle cx="254.8" cy="195.4" r="3.1" fill="#306ae9"/>
<circle cx="258.3" cy="188.7" r="3.1" fill="#8e39bd"/>
<circle cx="254.1" cy="174.8" r="3.1" fill="#764ed0"/>
<circle cx="254.1" cy="184.0" r="3.1" fill="#a919a8"/>
<circle cx="255.0" cy="190.8" r="3.1" fill="#bc009f"/>
<circle cx="249.0" cy="190.9" r="3.1" fill="#b40ba3"/>
<circle cx="253.4" cy="191.5" r="3.1" fill="#0086f9"/>
<circle cx="254.0" cy="204.6" r="3.1" fill="#6a56d7"/>
<circle cx="254.7" cy="177.1" r="3.1" fill="#af12a6"/>
<circle cx="269.3" cy="191.5" r="3.1" fill="#f80068"/>
<circle cx="250.2" cy="188.7" r="3.1" fill="#6c55d6"/>
<circle cx="246.4" cy="191.1" r="3.1" fill="#ef0075"/>
<circle cx="259.4" cy="191.6" r="3.1" fill="#a11fab"/>
<circle cx="264.2" cy="190.5" r="3.1" fill="#f00074"/>
<circle cx="282.0" cy="191.0" r="3.1" fill="#ff0051"/>
<circle cx="291.6" cy="191.0" r="3.1" fill="#ff0051"/>
<circle cx="338.9" cy="191.0" r="3.1" fill="#ff0051"/>
<circle cx="368.1" cy="191.0" r="3.1" fill="#ff0051"/>
<circle cx="387.1" cy="191.0" r="3.1" fill="#ff0051"/>
<circle cx="416.5" cy="191.0" r="3.1" fill="#ff0051"/>
<circle cx="520.9" cy="191.0" r="3.1" fill="#ff0051"/>
</g>
<g>
<circle cx="247.7" cy="243.5" r="3.1" fill="#008bfb"/>
<circle cx="240.1" cy="237.2" r="3.1" fill="#0088fa"/>
<circle cx="255.1" cy="239.0" r="3.1" fill="#585edf"/>
<circle cx="231.2" cy="237.3" r="3.1" fill="#008afa"/>
<circle cx="242.7" cy="238.9" r="3.1" fill="#0082f8"/>
<circle cx="250.3" cy="222.8" r="3.1" fill="#0087fa"/>
<circle cx="245.3" cy="238.9" r="3.1" fill="#0085f9"/>
<circle cx="253.4" cy="228.8" r="3.1" fill="#635adb"/>
<circle cx="251.7" cy="222.8" r="3.1" fill="#0088fa"/>
<circle cx="247.5" cy="229.7" r="3.1" fill="#0088fa"/>
<circle cx="248.0" cy="232.0" r="3.1" fill="#0084f9"/>
<circle cx="259.1" cy="238.9" r="3.1" fill="#ff0058"/>
<circle cx="246.3" cy="232.0" r="3.1" fill="#008bfb"/>
<circle cx="259.0" cy="237.3" r="3.1" fill="#fe005e"/>
<circle cx="255.2" cy="231.9" r="3.1" fill="#8c3bbf"/>
<circle cx="234.1" cy="237.1" r="3.1" fill="#0089fa"/>
<circle cx="257.8" cy="234.3" r="3.1" fill="#de0087"/>
<circle cx="255.1" cy="227.1" r="3.1" fill="#7052d4"/>
<circle cx="253.5" cy="246.7" r="3.1" fill="#764ed0"/>
<circle cx="245.4" cy="234.3" r="3.1" fill="#0086fa"/>
<circle cx="248.0" cy="234.3" r="3.1" fill="#0087fa"/>
<circle cx="248.9" cy="229.7" r="3.1" fill="#008afb"/>
<circle cx="251.5" cy="243.5" r="3.1" fill="#0089fa"/>
<circle cx="258.9" cy="234.3" r="3.1" fill="#e60080"/>
<circle cx="245.1" cy="232.0" r="3.1" fill="#0089fa"/>
<circle cx="272.1" cy="236.6" r="3.1" fill="#ff0054"/>
<circle cx="247.7" cy="241.2" r="3.1" fill="#0089fa"/>
<circle cx="244.9" cy="227.4" r="3.1" fill="#0085f9"/>
<circle cx="251.3" cy="248.1" r="3.1" fill="#0087fa"/>
<circle cx="253.8" cy="237.7" r="3.1" fill="#5261e1"/>
<circle cx="268.1" cy="236.2" r="3.1" fill="#ff0051"/>
<circle cx="244.1" cy="229.7" r="3.1" fill="#0087fa"/>
<circle cx="248.9" cy="232.0" r="3.1" fill="#0084f9"/>
<circle cx="238.9" cy="234.3" r="3.1" fill="#0089fa"/>
<circle cx="246.7" cy="236.8" r="3.1" fill="#0089fa"/>
<circle cx="245.0" cy="237.1" r="3.1" fill="#0081f7"/>
<circle cx="251.6" cy="225.1" r="3.1" fill="#0088fa"/>
<circle cx="251.5" cy="232.0" r="3.1" fill="#0085f9"/>
<circle cx="250.0" cy="225.1" r="3.1" fill="#0089fa"/>
<circle cx="236.6" cy="234.3" r="3.1" fill="#0087fa"/>
<circle cx="266.8" cy="236.9" r="3.1" fill="#fc0061"/>
<circle cx="250.0" cy="234.3" r="3.1" fill="#0089fa"/>
<circle cx="244.0" cy="232.0" r="3.1" fill="#008bfb"/>
<circle cx="250.0" cy="232.0" r="3.1" fill="#008bfb"/>
<circle cx="253.7" cy="222.1" r="3.1" fill="#8344c7"/>
<circle cx="253.4" cy="231.0" r="3.1" fill="#6658d9"/>
<circle cx="242.7" cy="234.3" r="3.1" fill="#0088fa"/>
<circle cx="241.7" cy="234.3" r="3.1" fill="#0088fa"/>
<circle cx="290.7" cy="237.1" r="3.1" fill="#ff0055"/>
<circle cx="250.1" cy="227.4" r="3.1" fill="#0083f8"/>
<circle cx="255.4" cy="243.8" r="3.1" fill="#605bdc"/>
<circle cx="249.1" cy="236.0" r="3.1" fill="#008afb"/>
<circle cx="249.2" cy="234.3" r="3.1" fill="#0089fa"/>
<circle cx="253.8" cy="242.2" r="3.1" fill="#4266e5"/>
<circle cx="251.2" cy="220.5" r="3.1" fill="#0085f9"/>
<circle cx="241.5" cy="238.9" r="3.1" fill="#0085f9"/>
<circle cx="241.7" cy="232.0" r="3.1" fill="#008bfb"/>
<circle cx="240.1" cy="232.0" r="3.1" fill="#008bfb"/>
<circle cx="245.3" cy="229.7" r="3.1" fill="#0089fa"/>
<circle cx="251.5" cy="229.7" r="3.1" fill="#0089fa"/>
<circle cx="237.8" cy="238.9" r="3.1" fill="#0088fa"/>
<circle cx="250.4" cy="238.9" r="3.1" fill="#0086f9"/>
<circle cx="264.4" cy="237.2" r="3.1" fill="#fa0066"/>
<circle cx="260.1" cy="238.9" r="3.1" fill="#ed0078"/>
<circle cx="253.5" cy="244.4" r="3.1" fill="#7e48cb"/>
<circle cx="250.2" cy="241.2" r="3.1" fill="#0086f9"/>
<circle cx="250.2" cy="248.1" r="3.1" fill="#0085f9"/>
<circle cx="262.7" cy="238.9" r="3.1" fill="#ff0051"/>
<circle cx="255.4" cy="241.4" r="3.1" fill="#6a56d7"/>
<circle cx="237.6" cy="234.3" r="3.1" fill="#008bfb"/>
<circle cx="245.1" cy="243.5" r="3.1" fill="#0082f8"/>
<circle cx="243.9" cy="238.9" r="3.1" fill="#0084f9"/>
<circle cx="253.5" cy="235.5" r="3.1" fill="#6f53d5"/>
<circle cx="248.8" cy="245.8" r="3.1" fill="#0088fa"/>
<circle cx="251.5" cy="227.4" r="3.1" fill="#0084f9"/>
<circle cx="251.4" cy="238.9" r="3.1" fill="#008bfb"/>
<circle cx="253.7" cy="251.1" r="3.1" fill="#4f62e2"/>
<circle cx="250.4" cy="250.4" r="3.1" fill="#008bfb"/>
<circle cx="246.5" cy="243.5" r="3.1" fill="#0089fa"/>
<circle cx="242.8" cy="232.0" r="3.1" fill="#0083f8"/>
<circle cx="253.6" cy="233.3" r="3.1" fill="#4864e4"/>
<circle cx="253.4" cy="248.9" r="3.1" fill="#6459da"/>
<circle cx="250.3" cy="229.7" r="3.1" fill="#0086f9"/>
<circle cx="250.3" cy="245.8" r="3.1" fill="#0088fa"/>
<circle cx="251.5" cy="250.4" r="3.1" fill="#0083f8"/>
<circle cx="255.4" cy="224.7" r="3.1" fill="#6c55d6"/>
<circle cx="239.2" cy="238.9" r="3.1" fill="#0087fa"/>
<circle cx="239.9" cy="234.3" r="3.1" fill="#0084f9"/>
<circle cx="255.3" cy="250.9" r="3.1" fill="#6f53d5"/>
<circle cx="230.4" cy="236.5" r="3.1" fill="#008afa"/>
<circle cx="243.8" cy="236.0" r="3.1" fill="#0083f8"/>
<circle cx="236.3" cy="238.9" r="3.1" fill="#0086fa"/>
<circle cx="251.3" cy="236.9" r="3.1" fill="#0089fa"/>
<circle cx="244.1" cy="234.3" r="3.1" fill="#008bfb"/>
<circle cx="257.6" cy="238.9" r="3.1" fill="#e00086"/>
<circle cx="250.0" cy="220.5" r="3.1" fill="#0083f8"/>
<circle cx="262.7" cy="234.3" r="3.1" fill="#f90067"/>
<circle cx="260.4" cy="236.2" r="3.1" fill="#ed0078"/>
<circle cx="245.4" cy="241.2" r="3.1" fill="#0087fa"/>
<circle cx="246.7" cy="234.3" r="3.1" fill="#0084f9"/>
<circle cx="237.5" cy="237.1" r="3.1" fill="#0084f9"/>
<circle cx="246.3" cy="241.2" r="3.1" fill="#0086f9"/>
<circle cx="251.3" cy="245.8" r="3.1" fill="#008bfb"/>
<circle cx="243.9" cy="241.2" r="3.1" fill="#0086fa"/>
<circle cx="260.3" cy="234.3" r="3.1" fill="#f5006e"/>
<circle cx="248.7" cy="238.9" r="3.1" fill="#008bfb"/>
<circle cx="241.2" cy="237.1" r="3.1" fill="#0088fa"/>
<circle cx="253.4" cy="226.6" r="3.1" fill="#4c63e3"/>
<circle cx="247.8" cy="227.4" r="3.1" fill="#008afb"/>
<circle cx="235.5" cy="237.4" r="3.1" fill="#0089fa"/>
<circle cx="247.6" cy="238.9" r="3.1" fill="#0084f9"/>
<circle cx="257.6" cy="237.4" r="3.1" fill="#f10073"/>
<circle cx="265.7" cy="236.9" r="3.1" fill="#ff005b"/>
<circle cx="261.5" cy="234.3" r="3.1" fill="#fd0060"/>
<circle cx="255.2" cy="222.3" r="3.1" fill="#5560e0"/>
<circle cx="261.7" cy="236.2" r="3.1" fill="#ff0059"/>
<circle cx="255.3" cy="229.5" r="3.1" fill="#5a5ede"/>
<circle cx="249.2" cy="250.4" r="3.1" fill="#008bfb"/>
<circle cx="255.4" cy="236.6" r="3.1" fill="#6359da"/>
<circle cx="249.1" cy="241.2" r="3.1" fill="#0081f7"/>
<circle cx="255.4" cy="248.5" r="3.1" fill="#4366e5"/>
<circle cx="250.3" cy="243.5" r="3.1" fill="#0089fa"/>
<circle cx="232.7" cy="237.2" r="3.1" fill="#0088fa"/>
<circle cx="236.3" cy="237.1" r="3.1" fill="#0088fa"/>
<circle cx="263.2" cy="236.3" r="3.1" fill="#fc0062"/>
<circle cx="251.3" cy="234.3" r="3.1" fill="#0087fa"/>
<circle cx="249.1" cy="227.4" r="3.1" fill="#0084f9"/>
<circle cx="242.5" cy="236.2" r="3.1" fill="#0088fa"/>
<circle cx="276.7" cy="236.6" r="3.1" fill="#ff0054"/>
<circle cx="239.1" cy="236.1" r="3.1" fill="#0089fa"/>
<circle cx="253.4" cy="240.0" r="3.1" fill="#6658d9"/>
<circle cx="247.6" cy="236.9" r="3.1" fill="#0089fa"/>
<circle cx="253.9" cy="224.4" r="3.1" fill="#5d5cdd"/>
<circle cx="249.1" cy="248.1" r="3.1" fill="#0089fa"/>
<circle cx="246.4" cy="238.9" r="3.1" fill="#0086f9"/>
<circle cx="251.5" cy="241.2" r="3.1" fill="#0083f8"/>
<circle cx="250.2" cy="236.0" r="3.1" fill="#0089fa"/>
<circle cx="284.3" cy="236.6" r="3.1" fill="#ff005a"/>
<circle cx="246.6" cy="229.7" r="3.1" fill="#0085f9"/>
<circle cx="288.9" cy="235.6" r="3.1" fill="#ff0053"/>
<circle cx="240.4" cy="238.9" r="3.1" fill="#0085f9"/>
<circle cx="249.0" cy="243.5" r="3.1" fill="#0089fa"/>
<circle cx="255.1" cy="234.2" r="3.1" fill="#8641c5"/>
<circle cx="255.1" cy="246.2" r="3.1" fill="#6857d8"/>
<circle cx="254.8" cy="247.6" r="3.1" fill="#e00086"/>
<circle cx="255.2" cy="237.1" r="3.1" fill="#a71ba9"/>
<circle cx="256.0" cy="234.6" r="3.1" fill="#bd009f"/>
</g>
<g>
<circle cx="252.8" cy="286.8" r="3.1" fill="#8047c9"/>
<circle cx="259.2" cy="273.0" r="3.1" fill="#ef0075"/>
<circle cx="261.6" cy="275.3" r="3.1" fill="#d8008c"/>
<circle cx="258.0" cy="289.1" r="3.1" fill="#b902a1"/>
<circle cx="228.5" cy="279.9" r="3.1" fill="#0084f9"/>
<circle cx="243.4" cy="279.9" r="3.1" fill="#0085f9"/>
<circle cx="254.9" cy="275.3" r="3.1" fill="#982ab2"/>
<circle cx="246.2" cy="286.8" r="3.1" fill="#0074f0"/>
<circle cx="221.5" cy="282.3" r="3.1" fill="#0085f9"/>
<circle cx="232.4" cy="283.0" r="3.1" fill="#0083f8"/>
<circle cx="257.9" cy="286.8" r="3.1" fill="#8146c9"/>
<circle cx="261.7" cy="277.6" r="3.1" fill="#ce0095"/>
<circle cx="255.6" cy="287.0" r="3.1" fill="#7052d4"/>
<circle cx="269.5" cy="279.9" r="3.1" fill="#c5009a"/>
<circle cx="256.7" cy="286.8" r="3.1" fill="#4d63e3"/>
<circle cx="240.6" cy="281.5" r="3.1" fill="#0088fa"/>
<circle cx="254.1" cy="270.7" r="3.1" fill="#7251d3"/>
<circle cx="249.9" cy="286.8" r="3.1" fill="#086fec"/>
<circle cx="249.0" cy="277.6" r="3.1" fill="#0075f1"/>
<circle cx="255.2" cy="273.0" r="3.1" fill="#e30083"/>
<circle cx="265.5" cy="286.8" r="3.1" fill="#ec0079"/>
<circle cx="261.4" cy="286.8" r="3.1" fill="#f10073"/>
<circle cx="250.1" cy="282.7" r="3.1" fill="#007ef6"/>
<circle cx="245.9" cy="277.6" r="3.1" fill="#007df6"/>
<circle cx="251.6" cy="289.1" r="3.1" fill="#0072ee"/>
<circle cx="244.9" cy="282.9" r="3.1" fill="#0080f7"/>
<circle cx="264.5" cy="284.5" r="3.1" fill="#ff0058"/>
<circle cx="260.5" cy="281.8" r="3.1" fill="#e30083"/>
<circle cx="255.0" cy="293.7" r="3.1" fill="#0072ef"/>
<circle cx="255.1" cy="291.4" r="3.1" fill="#8c3cc0"/>
<circle cx="255.1" cy="279.9" r="3.1" fill="#9036bb"/>
<circle cx="246.1" cy="279.9" r="3.1" fill="#0080f7"/>
<circle cx="260.5" cy="289.1" r="3.1" fill="#e50081"/>
<circle cx="247.3" cy="277.6" r="3.1" fill="#007df5"/>
<circle cx="255.3" cy="270.7" r="3.1" fill="#a51daa"/>
<circle cx="265.7" cy="284.5" r="3.1" fill="#e7007e"/>
<circle cx="247.3" cy="282.9" r="3.1" fill="#0082f8"/>
<circle cx="259.0" cy="282.2" r="3.1" fill="#9233b8"/>
<circle cx="231.2" cy="282.4" r="3.1" fill="#0087fa"/>
<circle cx="239.2" cy="279.9" r="3.1" fill="#007ef6"/>
<circle cx="253.6" cy="277.6" r="3.1" fill="#a81aa9"/>
<circle cx="255.1" cy="272.9" r="3.1" fill="#d7008d"/>
<circle cx="267.9" cy="281.8" r="3.1" fill="#de0088"/>
<circle cx="235.3" cy="283.0" r="3.1" fill="#0089fa"/>
<circle cx="248.4" cy="286.8" r="3.1" fill="#0077f2"/>
<circle cx="236.8" cy="284.5" r="3.1" fill="#0087fa"/>
<circle cx="257.9" cy="282.7" r="3.1" fill="#f00074"/>
<circle cx="225.7" cy="279.9" r="3.1" fill="#0087fa"/>
<circle cx="269.6" cy="281.8" r="3.1" fill="#dc0089"/>
<circle cx="261.7" cy="281.8" r="3.1" fill="#da008b"/>
<circle cx="255.0" cy="296.4" r="3.1" fill="#8542c5"/>
<circle cx="258.8" cy="289.1" r="3.1" fill="#da008b"/>
<circle cx="255.1" cy="275.2" r="3.1" fill="#f20072"/>
<circle cx="225.6" cy="281.7" r="3.1" fill="#0087fa"/>
<circle cx="265.3" cy="282.0" r="3.1" fill="#f30070"/>
<circle cx="252.3" cy="279.9" r="3.1" fill="#764ed0"/>
<circle cx="244.4" cy="279.9" r="3.1" fill="#007df5"/>
<circle cx="256.7" cy="289.1" r="3.1" fill="#9e22ac"/>
<circle cx="256.6" cy="275.3" r="3.1" fill="#982ab1"/>
<circle cx="266.7" cy="282.2" r="3.1" fill="#d00093"/>
<circle cx="235.3" cy="284.5" r="3.1" fill="#008bfb"/>
<circle cx="260.2" cy="275.3" r="3.1" fill="#ce0094"/>
<circle cx="229.8" cy="279.9" r="3.1" fill="#0089fa"/>
<circle cx="252.7" cy="275.3" r="3.1" fill="#b40ca3"/>
<circle cx="257.8" cy="277.6" r="3.1" fill="#eb007a"/>
<circle cx="242.1" cy="279.9" r="3.1" fill="#0084f9"/>
<circle cx="260.5" cy="286.8" r="3.1" fill="#e40082"/>
<circle cx="253.8" cy="275.3" r="3.1" fill="#9928b0"/>
<circle cx="255.9" cy="279.9" r="3.1" fill="#e20084"/>
<circle cx="260.6" cy="277.6" r="3.1" fill="#f4006e"/>
<circle cx="260.4" cy="284.5" r="3.1" fill="#d6008f"/>
<circle cx="257.8" cy="284.5" r="3.1" fill="#cf0094"/>
<circle cx="266.5" cy="284.5" r="3.1" fill="#ce0095"/>
<circle cx="245.8" cy="284.5" r="3.1" fill="#0080f7"/>
<circle cx="255.6" cy="282.3" r="3.1" fill="#962eb4"/>
<circle cx="263.1" cy="284.5" r="3.1" fill="#ea007c"/>
<circle cx="253.7" cy="281.7" r="3.1" fill="#b802a1"/>
<circle cx="258.8" cy="279.9" r="3.1" fill="#e7007e"/>
<circle cx="257.9" cy="273.0" r="3.1" fill="#a11fab"/>
<circle cx="257.9" cy="279.9" r="3.1" fill="#f20071"/>
<circle cx="244.5" cy="284.5" r="3.1" fill="#007ef6"/>
<circle cx="252.6" cy="284.5" r="3.1" fill="#0070ed"/>
<circle cx="256.5" cy="284.5" r="3.1" fill="#df0087"/>
<circle cx="248.5" cy="279.9" r="3.1" fill="#0072ef"/>
<circle cx="249.9" cy="277.6" r="3.1" fill="#0084f9"/>
<circle cx="261.6" cy="284.5" r="3.1" fill="#ce0094"/>
<circle cx="255.4" cy="286.8" r="3.1" fill="#de0088"/>
<circle cx="240.5" cy="279.9" r="3.1" fill="#0083f8"/>
<circle cx="261.8" cy="289.1" r="3.1" fill="#c1009d"/>
<circle cx="261.6" cy="279.9" r="3.1" fill="#fd005f"/>
<circle cx="251.4" cy="286.8" r="3.1" fill="#6559da"/>
<circle cx="253.9" cy="286.8" r="3.1" fill="#9530b6"/>
<circle cx="236.4" cy="281.7" r="3.1" fill="#008bfb"/>
<circle cx="253.9" cy="291.4" r="3.1" fill="#605bdc"/>
<circle cx="255.1" cy="268.2" r="3.1" fill="#9e22ac"/>
<circle cx="264.5" cy="282.2" r="3.1" fill="#ed0078"/>
<circle cx="256.2" cy="273.0" r="3.1" fill="#dc0089"/>
<circle cx="264.2" cy="279.9" r="3.1" fill="#eb007b"/>
<circle cx="266.7" cy="279.9" r="3.1" fill="#aa18a8"/>
<circle cx="255.3" cy="289.1" r="3.1" fill="#7052d4"/>
<circle cx="237.7" cy="282.7" r="3.1" fill="#008bfb"/>
<circle cx="256.2" cy="282.4" r="3.1" fill="#9d22ad"/>
<circle cx="233.6" cy="282.8" r="3.1" fill="#0087fa"/>
<circle cx="229.6" cy="281.9" r="3.1" fill="#0084f9"/>
<circle cx="224.1" cy="282.1" r="3.1" fill="#0085f9"/>
<circle cx="262.7" cy="277.6" r="3.1" fill="#ff0051"/>
<circle cx="255.0" cy="294.1" r="3.1" fill="#962db4"/>
<circle cx="247.1" cy="286.8" r="3.1" fill="#008bfb"/>
<circle cx="259.0" cy="275.3" r="3.1" fill="#cf0094"/>
<circle cx="255.3" cy="284.5" r="3.1" fill="#a51daa"/>
<circle cx="248.6" cy="281.8" r="3.1" fill="#007ef6"/>
<circle cx="262.9" cy="281.7" r="3.1" fill="#f90067"/>
<circle cx="237.7" cy="279.9" r="3.1" fill="#0087fa"/>
<circle cx="219.2" cy="282.1" r="3.1" fill="#0087fa"/>
<circle cx="265.7" cy="279.9" r="3.1" fill="#eb007b"/>
<circle cx="253.7" cy="289.1" r="3.1" fill="#bb00a0"/>
<circle cx="251.7" cy="277.6" r="3.1" fill="#007af4"/>
<circle cx="256.5" cy="270.7" r="3.1" fill="#c3009c"/>
<circle cx="227.2" cy="282.7" r="3.1" fill="#0089fa"/>
<circle cx="241.7" cy="284.5" r="3.1" fill="#0087fa"/>
<circle cx="264.3" cy="277.6" r="3.1" fill="#fb0064"/>
<circle cx="273.1" cy="282.3" r="3.1" fill="#e50081"/>
<circle cx="243.4" cy="282.0" r="3.1" fill="#0085f9"/>
<circle cx="268.2" cy="284.5" r="3.1" fill="#e30083"/>
<circle cx="259.0" cy="284.5" r="3.1" fill="#df0087"/>
<circle cx="253.8" cy="273.0" r="3.1" fill="#a020ac"/>
<circle cx="269.5" cy="284.5" r="3.1" fill="#9233b8"/>
<circle cx="253.5" cy="284.5" r="3.1" fill="#893ec2"/>
<circle cx="271.9" cy="282.3" r="3.1" fill="#da008b"/>
<circle cx="264.1" cy="286.8" r="3.1" fill="#f90066"/>
<circle cx="240.4" cy="284.5" r="3.1" fill="#0083f8"/>
<circle cx="228.2" cy="282.2" r="3.1" fill="#008afb"/>
<circle cx="257.6" cy="275.3" r="3.1" fill="#a81aa8"/>
<circle cx="256.4" cy="279.9" r="3.1" fill="#a120ab"/>
<circle cx="243.5" cy="284.5" r="3.1" fill="#0086f9"/>
<circle cx="237.8" cy="284.5" r="3.1" fill="#0080f7"/>
<circle cx="255.0" cy="284.6" r="3.1" fill="#4d62e2"/>
<circle cx="223.2" cy="282.1" r="3.1" fill="#0089fa"/>
<circle cx="251.4" cy="282.0" r="3.1" fill="#3868e7"/>
<circle cx="256.0" cy="291.7" r="3.1" fill="#9d23ad"/>
<circle cx="262.8" cy="286.8" r="3.1" fill="#dd0088"/>
<circle cx="259.1" cy="277.6" r="3.1" fill="#c70099"/>
<circle cx="250.1" cy="284.5" r="3.1" fill="#0078f2"/>
<circle cx="251.6" cy="275.3" r="3.1" fill="#1e6deb"/>
<circle cx="252.7" cy="289.1" r="3.1" fill="#216deb"/>
<circle cx="255.0" cy="277.6" r="3.1" fill="#f10072"/>
<circle cx="220.1" cy="282.1" r="3.1" fill="#0086f9"/>
<circle cx="243.1" cy="277.6" r="3.1" fill="#0078f3"/>
<circle cx="252.6" cy="283.0" r="3.1" fill="#6658d9"/>
<circle cx="248.8" cy="284.5" r="3.1" fill="#0082f8"/>
<circle cx="239.2" cy="282.5" r="3.1" fill="#0080f7"/>
<circle cx="281.0" cy="282.2" r="3.1" fill="#ff0051"/>
<circle cx="250.0" cy="289.1" r="3.1" fill="#0078f3"/>
<circle cx="254.8" cy="270.6" r="3.1" fill="#a919a8"/>
<circle cx="255.1" cy="282.4" r="3.1" fill="#4f62e2"/>
<circle cx="239.2" cy="284.5" r="3.1" fill="#0080f7"/>
<circle cx="258.8" cy="286.8" r="3.1" fill="#d30091"/>
<circle cx="251.5" cy="279.9" r="3.1" fill="#0084f9"/>
<circle cx="252.4" cy="277.6" r="3.1" fill="#2e6be9"/>
<circle cx="262.8" cy="279.9" r="3.1" fill="#c60099"/>
<circle cx="260.6" cy="279.9" r="3.1" fill="#a31eaa"/>
<circle cx="236.5" cy="279.9" r="3.1" fill="#008afb"/>
<circle cx="255.7" cy="289.3" r="3.1" fill="#a71aa9"/>
<circle cx="242.0" cy="282.3" r="3.1" fill="#0087fa"/>
<circle cx="254.0" cy="279.9" r="3.1" fill="#c90097"/>
<circle cx="247.5" cy="284.5" r="3.1" fill="#008bfb"/>
<circle cx="249.9" cy="279.9" r="3.1" fill="#5062e2"/>
<circle cx="227.0" cy="279.9" r="3.1" fill="#0086f9"/>
<circle cx="270.8" cy="282.5" r="3.1" fill="#bb00a0"/>
<circle cx="255.4" cy="277.6" r="3.1" fill="#aa18a8"/>
<circle cx="217.6" cy="282.4" r="3.1" fill="#0089fa"/>
<circle cx="247.5" cy="279.9" r="3.1" fill="#0071ee"/>
<circle cx="244.8" cy="277.6" r="3.1" fill="#008bfb"/>
<circle cx="251.6" cy="284.5" r="3.1" fill="#007ef6"/>
<circle cx="256.2" cy="277.6" r="3.1" fill="#8542c6"/>
<circle cx="245.8" cy="282.4" r="3.1" fill="#0086fa"/>
<circle cx="268.2" cy="279.9" r="3.1" fill="#ea007c"/>
<circle cx="274.8" cy="283.0" r="3.1" fill="#ec0079"/>
<circle cx="284.1" cy="282.2" r="3.1" fill="#ff0051"/>
<circle cx="216.2" cy="281.7" r="3.1" fill="#0087fa"/>
</g>
<g>
<circle cx="253.7" cy="342.6" r="3.1" fill="#7e48cb"/>
<circle cx="263.7" cy="327.8" r="3.1" fill="#9135ba"/>
<circle cx="254.2" cy="340.3" r="3.1" fill="#784dcf"/>
<circle cx="255.3" cy="330.1" r="3.1" fill="#962eb4"/>
<circle cx="290.0" cy="328.4" r="3.1" fill="#008bfb"/>
<circle cx="256.5" cy="327.7" r="3.1" fill="#8740c4"/>
<circle cx="253.6" cy="319.3" r="3.1" fill="#ea007b"/>
<circle cx="256.3" cy="330.1" r="3.1" fill="#962eb4"/>
<circle cx="300.7" cy="327.8" r="3.1" fill="#0088fa"/>
<circle cx="272.1" cy="328.1" r="3.1" fill="#0084f9"/>
<circle cx="250.3" cy="327.8" r="3.1" fill="#9928b0"/>
<circle cx="253.4" cy="331.0" r="3.1" fill="#cd0095"/>
<circle cx="238.6" cy="327.8" r="3.1" fill="#ff0051"/>
<circle cx="251.6" cy="325.5" r="3.1" fill="#9a27af"/>
<circle cx="278.4" cy="327.3" r="3.1" fill="#0086f9"/>
<circle cx="275.2" cy="327.0" r="3.1" fill="#0085f9"/>
<circle cx="277.0" cy="327.1" r="3.1" fill="#0083f8"/>
<circle cx="253.6" cy="326.3" r="3.1" fill="#784dcf"/>
<circle cx="254.0" cy="337.9" r="3.1" fill="#8e38bd"/>
<circle cx="254.0" cy="324.0" r="3.1" fill="#8a3dc1"/>
<circle cx="253.1" cy="325.5" r="3.1" fill="#9d23ad"/>
<circle cx="285.1" cy="328.6" r="3.1" fill="#0086f9"/>
<circle cx="255.1" cy="314.9" r="3.1" fill="#b011a5"/>
<circle cx="270.6" cy="327.8" r="3.1" fill="#0084f9"/>
<circle cx="255.4" cy="312.6" r="3.1" fill="#952fb5"/>
<circle cx="254.4" cy="327.3" r="3.1" fill="#fa0065"/>
<circle cx="257.5" cy="330.1" r="3.1" fill="#d9008c"/>
<circle cx="279.9" cy="327.9" r="3.1" fill="#0086f9"/>
<circle cx="308.2" cy="327.8" r="3.1" fill="#0086f9"/>
<circle cx="250.7" cy="330.1" r="3.1" fill="#9234b9"/>
<circle cx="255.5" cy="342.4" r="3.1" fill="#8c3cc0"/>
<circle cx="268.9" cy="327.2" r="3.1" fill="#008afa"/>
<circle cx="259.0" cy="327.1" r="3.1" fill="#ef0075"/>
<circle cx="261.0" cy="328.4" r="3.1" fill="#008bfb"/>
<circle cx="255.7" cy="328.6" r="3.1" fill="#a41daa"/>
<circle cx="274.0" cy="327.3" r="3.1" fill="#0084f9"/>
<circle cx="253.5" cy="335.6" r="3.1" fill="#3968e7"/>
<circle cx="265.8" cy="327.6" r="3.1" fill="#008bfb"/>
<circle cx="288.1" cy="327.8" r="3.1" fill="#0086f9"/>
<circle cx="255.3" cy="325.5" r="3.1" fill="#e20084"/>
<circle cx="254.3" cy="330.1" r="3.1" fill="#bb00a0"/>
<circle cx="262.4" cy="327.4" r="3.1" fill="#0074f0"/>
<circle cx="250.6" cy="325.5" r="3.1" fill="#972cb3"/>
<circle cx="286.4" cy="328.4" r="3.1" fill="#0082f8"/>
<circle cx="258.0" cy="325.5" r="3.1" fill="#ed0079"/>
<circle cx="292.9" cy="327.6" r="3.1" fill="#0083f8"/>
<circle cx="253.6" cy="328.6" r="3.1" fill="#794cce"/>
<circle cx="283.5" cy="327.5" r="3.1" fill="#007df5"/>
<circle cx="254.1" cy="314.7" r="3.1" fill="#da008b"/>
<circle cx="258.7" cy="330.1" r="3.1" fill="#ff0059"/>
<circle cx="251.8" cy="328.0" r="3.1" fill="#7b4bcd"/>
<circle cx="264.2" cy="328.4" r="3.1" fill="#0084f9"/>
<circle cx="253.9" cy="333.3" r="3.1" fill="#6a56d7"/>
<circle cx="254.0" cy="312.4" r="3.1" fill="#9a26af"/>
<circle cx="253.2" cy="330.1" r="3.1" fill="#af13a6"/>
<circle cx="251.8" cy="330.1" r="3.1" fill="#c3009b"/>
<circle cx="244.7" cy="327.8" r="3.1" fill="#ff0051"/>
<circle cx="254.3" cy="325.5" r="3.1" fill="#962db4"/>
<circle cx="255.3" cy="333.2" r="3.1" fill="#9a26af"/>
<circle cx="256.6" cy="325.5" r="3.1" fill="#774ed0"/>
<circle cx="249.3" cy="327.6" r="3.1" fill="#cf0094"/>
<circle cx="255.0" cy="330.9" r="3.1" fill="#e20084"/>
<circle cx="253.0" cy="327.7" r="3.1" fill="#9233b9"/>
<circle cx="267.4" cy="327.1" r="3.1" fill="#007bf4"/>
<circle cx="255.4" cy="324.0" r="3.1" fill="#8543c6"/>
<circle cx="257.8" cy="328.0" r="3.1" fill="#8642c5"/>
<circle cx="255.4" cy="340.1" r="3.1" fill="#8444c7"/>
<circle cx="291.4" cy="328.3" r="3.1" fill="#0088fa"/>
<circle cx="255.6" cy="326.3" r="3.1" fill="#9b24ae"/>
<circle cx="258.8" cy="325.5" r="3.1" fill="#d8008c"/>
<circle cx="255.7" cy="337.8" r="3.1" fill="#883fc2"/>
<circle cx="281.6" cy="328.2" r="3.1" fill="#0087fa"/>
<circle cx="254.1" cy="321.7" r="3.1" fill="#9430b6"/>
<circle cx="316.3" cy="327.8" r="3.1" fill="#0086f9"/>
<circle cx="255.1" cy="321.7" r="3.1" fill="#972db3"/>
<circle cx="255.4" cy="317.2" r="3.1" fill="#cd0095"/>
<circle cx="253.8" cy="317.0" r="3.1" fill="#d40090"/>
<circle cx="255.6" cy="319.5" r="3.1" fill="#da008b"/>
<circle cx="255.2" cy="327.5" r="3.1" fill="#6c55d6"/>
<circle cx="255.6" cy="335.5" r="3.1" fill="#bc009f"/>
<circle cx="259.2" cy="327.8" r="3.1" fill="#ff0051"/>
<circle cx="269.3" cy="328.8" r="3.1" fill="#ff0051"/>
</g>
<g>
<circle cx="254.0" cy="377.1" r="3.1" fill="#6d54d6"/>
<circle cx="262.4" cy="373.9" r="3.1" fill="#d20092"/>
<circle cx="254.2" cy="381.7" r="3.1" fill="#7053d4"/>
<circle cx="260.8" cy="372.9" r="3.1" fill="#e50081"/>
<circle cx="253.9" cy="363.4" r="3.1" fill="#8542c5"/>
<circle cx="256.4" cy="368.8" r="3.1" fill="#9135ba"/>
<circle cx="255.1" cy="363.4" r="3.1" fill="#8542c6"/>
<circle cx="251.3" cy="371.1" r="3.1" fill="#0083f8"/>
<circle cx="259.2" cy="371.1" r="3.1" fill="#8f38bc"/>
<circle cx="256.7" cy="375.7" r="3.1" fill="#5460e0"/>
<circle cx="253.9" cy="388.6" r="3.1" fill="#784dcf"/>
<circle cx="255.1" cy="377.0" r="3.1" fill="#7d49cc"/>
<circle cx="249.0" cy="371.1" r="3.1" fill="#0087fa"/>
<circle cx="263.8" cy="371.1" r="3.1" fill="#f10073"/>
<circle cx="245.3" cy="373.4" r="3.1" fill="#008bfb"/>
<circle cx="280.4" cy="373.7" r="3.1" fill="#ff0056"/>
<circle cx="255.5" cy="365.6" r="3.1" fill="#7152d4"/>
<circle cx="246.7" cy="371.1" r="3.1" fill="#0086fa"/>
<circle cx="247.9" cy="372.6" r="3.1" fill="#0080f7"/>
<circle cx="260.8" cy="371.1" r="3.1" fill="#c2009c"/>
<circle cx="248.1" cy="375.7" r="3.1" fill="#0082f8"/>
<circle cx="245.2" cy="375.7" r="3.1" fill="#0088fa"/>
<circle cx="246.7" cy="372.9" r="3.1" fill="#0082f8"/>
<circle cx="256.7" cy="373.0" r="3.1" fill="#7152d4"/>
<circle cx="275.6" cy="371.1" r="3.1" fill="#d20091"/>
<circle cx="245.3" cy="371.1" r="3.1" fill="#007ff7"/>
<circle cx="259.0" cy="368.8" r="3.1" fill="#bb00a0"/>
<circle cx="250.2" cy="375.7" r="3.1" fill="#0080f7"/>
<circle cx="252.5" cy="378.0" r="3.1" fill="#0080f7"/>
<circle cx="252.7" cy="366.5" r="3.1" fill="#0073ef"/>
<circle cx="255.2" cy="388.4" r="3.1" fill="#6f53d5"/>
<circle cx="283.4" cy="373.7" r="3.1" fill="#ff0057"/>
<circle cx="278.6" cy="374.1" r="3.1" fill="#ff0051"/>
<circle cx="252.8" cy="368.8" r="3.1" fill="#0087fa"/>
<circle cx="242.9" cy="373.8" r="3.1" fill="#0083f8"/>
<circle cx="254.1" cy="374.8" r="3.1" fill="#7f47ca"/>
<circle cx="249.0" cy="378.0" r="3.1" fill="#0083f8"/>
<circle cx="258.0" cy="378.0" r="3.1" fill="#7450d2"/>
<circle cx="249.0" cy="373.9" r="3.1" fill="#0084f9"/>
<circle cx="253.9" cy="367.9" r="3.1" fill="#8d3abe"/>
<circle cx="266.9" cy="373.8" r="3.1" fill="#eb007b"/>
<circle cx="302.2" cy="374.4" r="3.1" fill="#ff0051"/>
<circle cx="259.2" cy="378.0" r="3.1" fill="#a11fab"/>
<circle cx="254.3" cy="370.2" r="3.1" fill="#7b4bcd"/>
<circle cx="248.8" cy="375.7" r="3.1" fill="#008bfb"/>
<circle cx="257.7" cy="368.8" r="3.1" fill="#a21fab"/>
<circle cx="252.4" cy="374.0" r="3.1" fill="#0083f8"/>
<circle cx="251.1" cy="368.8" r="3.1" fill="#0080f7"/>
<circle cx="274.0" cy="373.9" r="3.1" fill="#df0087"/>
<circle cx="262.5" cy="371.1" r="3.1" fill="#dc0089"/>
<circle cx="313.2" cy="373.4" r="3.1" fill="#ff0051"/>
<circle cx="265.0" cy="373.1" r="3.1" fill="#ff0052"/>
<circle cx="255.3" cy="367.9" r="3.1" fill="#7b4bcd"/>
<circle cx="257.9" cy="373.5" r="3.1" fill="#8344c7"/>
<circle cx="257.9" cy="371.1" r="3.1" fill="#7350d2"/>
<circle cx="233.0" cy="373.4" r="3.1" fill="#0084f9"/>
<circle cx="257.7" cy="375.7" r="3.1" fill="#6e54d5"/>
<circle cx="250.1" cy="368.8" r="3.1" fill="#008bfb"/>
<circle cx="301.4" cy="372.4" r="3.1" fill="#ff0051"/>
<circle cx="287.6" cy="373.4" r="3.1" fill="#ff0058"/>
<circle cx="247.9" cy="371.1" r="3.1" fill="#007ff7"/>
<circle cx="251.7" cy="378.0" r="3.1" fill="#0087fa"/>
<circle cx="253.7" cy="365.7" r="3.1" fill="#605bdc"/>
<circle cx="256.4" cy="380.3" r="3.1" fill="#4864e4"/>
<circle cx="255.7" cy="372.5" r="3.1" fill="#a120ab"/>
<circle cx="282.0" cy="373.2" r="3.1" fill="#fa0065"/>
<circle cx="263.7" cy="373.8" r="3.1" fill="#d10092"/>
<circle cx="252.7" cy="375.7" r="3.1" fill="#0083f8"/>
<circle cx="259.0" cy="375.7" r="3.1" fill="#9332b7"/>
<circle cx="256.4" cy="371.1" r="3.1" fill="#9431b7"/>
<circle cx="271.5" cy="372.7" r="3.1" fill="#f5006e"/>
<circle cx="255.4" cy="379.3" r="3.1" fill="#784dcf"/>
<circle cx="260.5" cy="375.7" r="3.1" fill="#fa0064"/>
<circle cx="262.1" cy="375.7" r="3.1" fill="#e7007f"/>
<circle cx="254.3" cy="384.0" r="3.1" fill="#8840c3"/>
<circle cx="290.4" cy="372.6" r="3.1" fill="#ff005b"/>
<circle cx="250.1" cy="378.0" r="3.1" fill="#0087fa"/>
<circle cx="241.6" cy="372.6" r="3.1" fill="#0087fa"/>
<circle cx="251.4" cy="375.7" r="3.1" fill="#0083f8"/>
<circle cx="277.1" cy="372.7" r="3.1" fill="#ec0079"/>
<circle cx="256.7" cy="378.0" r="3.1" fill="#5f5bdc"/>
<circle cx="275.8" cy="375.7" r="3.1" fill="#c70099"/>
<circle cx="251.7" cy="364.2" r="3.1" fill="#0082f8"/>
<circle cx="277.4" cy="371.1" r="3.1" fill="#ee0076"/>
<circle cx="251.4" cy="366.5" r="3.1" fill="#007df5"/>
<circle cx="274.4" cy="375.7" r="3.1" fill="#ec007a"/>
<circle cx="255.5" cy="381.5" r="3.1" fill="#7c4acc"/>
<circle cx="250.2" cy="373.3" r="3.1" fill="#0084f9"/>
<circle cx="272.8" cy="373.6" r="3.1" fill="#ff0051"/>
<circle cx="231.3" cy="373.4" r="3.1" fill="#0088fa"/>
<circle cx="268.3" cy="373.1" r="3.1" fill="#f30070"/>
<circle cx="289.0" cy="374.0" r="3.1" fill="#ff0052"/>
<circle cx="252.9" cy="380.3" r="3.1" fill="#007cf5"/>
<circle cx="252.6" cy="371.1" r="3.1" fill="#007df5"/>
<circle cx="254.2" cy="386.3" r="3.1" fill="#575fe0"/>
<circle cx="252.5" cy="364.2" r="3.1" fill="#0085f9"/>
<circle cx="269.9" cy="373.1" r="3.1" fill="#ed0078"/>
<circle cx="255.7" cy="370.2" r="3.1" fill="#6a56d8"/>
<circle cx="275.7" cy="374.0" r="3.1" fill="#d7008d"/>
<circle cx="277.3" cy="375.7" r="3.1" fill="#f6006c"/>
<circle cx="246.6" cy="375.7" r="3.1" fill="#0089fa"/>
<circle cx="253.7" cy="372.5" r="3.1" fill="#3f67e6"/>
<circle cx="286.5" cy="373.0" r="3.1" fill="#ff0053"/>
<circle cx="255.5" cy="386.1" r="3.1" fill="#754fd1"/>
<circle cx="253.6" cy="379.4" r="3.1" fill="#8146c9"/>
<circle cx="258.9" cy="373.8" r="3.1" fill="#9928b0"/>
<circle cx="255.3" cy="383.8" r="3.1" fill="#7052d4"/>
<circle cx="284.9" cy="373.2" r="3.1" fill="#ff0051"/>
<circle cx="273.9" cy="371.1" r="3.1" fill="#d5008f"/>
<circle cx="244.1" cy="372.7" r="3.1" fill="#007cf5"/>
<circle cx="255.1" cy="374.7" r="3.1" fill="#8344c7"/>
<circle cx="251.3" cy="372.9" r="3.1" fill="#0074f0"/>
<circle cx="250.0" cy="371.1" r="3.1" fill="#0087fa"/>
<circle cx="240.5" cy="373.7" r="3.1" fill="#0084f9"/>
<circle cx="254.3" cy="362.4" r="3.1" fill="#0078f3"/>
<circle cx="254.6" cy="360.0" r="3.1" fill="#0083f8"/>
</g>
<g>
<circle cx="253.5" cy="430.4" r="3.1" fill="#008bfb"/>
<circle cx="246.7" cy="418.5" r="3.1" fill="#008bfb"/>
<circle cx="254.4" cy="419.6" r="3.1" fill="#0088fa"/>
<circle cx="277.6" cy="418.6" r="3.1" fill="#ff005a"/>
<circle cx="252.8" cy="428.1" r="3.1" fill="#0085f9"/>
<circle cx="252.4" cy="432.7" r="3.1" fill="#008bfb"/>
<circle cx="252.5" cy="416.6" r="3.1" fill="#0086f9"/>
<circle cx="254.4" cy="425.8" r="3.1" fill="#0089fa"/>
<circle cx="259.7" cy="416.6" r="3.1" fill="#4f62e2"/>
<circle cx="265.7" cy="416.6" r="3.1" fill="#b803a1"/>
<circle cx="253.3" cy="428.1" r="3.1" fill="#0088fa"/>
<circle cx="280.9" cy="418.8" r="3.1" fill="#ff0058"/>
<circle cx="243.7" cy="416.6" r="3.1" fill="#0085f9"/>
<circle cx="254.6" cy="414.3" r="3.1" fill="#008bfb"/>
<circle cx="253.4" cy="416.6" r="3.1" fill="#0084f9"/>
<circle cx="247.3" cy="419.1" r="3.1" fill="#0087fa"/>
<circle cx="273.2" cy="418.3" r="3.1" fill="#ff005b"/>
<circle cx="253.7" cy="409.7" r="3.1" fill="#008bfb"/>
<circle cx="250.5" cy="414.3" r="3.1" fill="#0089fa"/>
<circle cx="253.6" cy="432.7" r="3.1" fill="#008bfb"/>
<circle cx="259.8" cy="419.7" r="3.1" fill="#4c63e3"/>
<circle cx="249.5" cy="425.8" r="3.1" fill="#0085f9"/>
<circle cx="254.9" cy="412.0" r="3.1" fill="#0088fa"/>
<circle cx="253.4" cy="412.0" r="3.1" fill="#0086fa"/>
<circle cx="242.4" cy="418.3" r="3.1" fill="#0084f9"/>
<circle cx="271.6" cy="418.5" r="3.1" fill="#ff0059"/>
<circle cx="244.5" cy="421.2" r="3.1" fill="#0089fa"/>
<circle cx="252.9" cy="419.6" r="3.1" fill="#0088fa"/>
<circle cx="252.6" cy="414.3" r="3.1" fill="#0088fa"/>
<circle cx="254.7" cy="428.1" r="3.1" fill="#0088fa"/>
<circle cx="267.2" cy="418.6" r="3.1" fill="#ff005b"/>
<circle cx="253.5" cy="421.2" r="3.1" fill="#0089fa"/>
<circle cx="255.8" cy="425.8" r="3.1" fill="#0089fa"/>
<circle cx="243.6" cy="418.9" r="3.1" fill="#0088fa"/>
<circle cx="253.8" cy="407.4" r="3.1" fill="#0088fa"/>
<circle cx="251.6" cy="418.7" r="3.1" fill="#0089fa"/>
<circle cx="258.1" cy="418.8" r="3.1" fill="#0073ef"/>
<circle cx="255.4" cy="423.5" r="3.1" fill="#0083f8"/>
<circle cx="248.4" cy="419.6" r="3.1" fill="#0084f9"/>
<circle cx="251.4" cy="416.6" r="3.1" fill="#0086fa"/>
<circle cx="252.8" cy="412.0" r="3.1" fill="#0088fa"/>
<circle cx="247.3" cy="416.6" r="3.1" fill="#0088fa"/>
<circle cx="252.5" cy="430.4" r="3.1" fill="#008afb"/>
<circle cx="279.5" cy="418.5" r="3.1" fill="#ff005b"/>
<circle cx="249.5" cy="419.7" r="3.1" fill="#0087fa"/>
<circle cx="253.4" cy="419.5" r="3.1" fill="#008bfb"/>
<circle cx="254.8" cy="421.2" r="3.1" fill="#0089fa"/>
<circle cx="252.5" cy="425.8" r="3.1" fill="#0084f9"/>
<circle cx="254.3" cy="430.4" r="3.1" fill="#0087fa"/>
<circle cx="269.1" cy="419.1" r="3.1" fill="#ff0051"/>
<circle cx="248.4" cy="423.5" r="3.1" fill="#0086f9"/>
<circle cx="246.8" cy="421.2" r="3.1" fill="#008afb"/>
<circle cx="251.5" cy="425.8" r="3.1" fill="#008afb"/>
<circle cx="256.5" cy="421.2" r="3.1" fill="#008bfb"/>
<circle cx="282.6" cy="418.8" r="3.1" fill="#ff0051"/>
<circle cx="250.6" cy="423.5" r="3.1" fill="#0085f9"/>
<circle cx="255.7" cy="412.0" r="3.1" fill="#0088fa"/>
<circle cx="248.7" cy="416.6" r="3.1" fill="#008bfb"/>
<circle cx="254.3" cy="423.5" r="3.1" fill="#0087fa"/>
<circle cx="255.4" cy="419.3" r="3.1" fill="#0088fa"/>
<circle cx="250.9" cy="421.2" r="3.1" fill="#0087fa"/>
<circle cx="253.6" cy="414.3" r="3.1" fill="#008bfb"/>
<circle cx="254.4" cy="409.7" r="3.1" fill="#0088fa"/>
<circle cx="294.9" cy="418.9" r="3.1" fill="#ff0051"/>
<circle cx="249.7" cy="421.2" r="3.1" fill="#0088fa"/>
<circle cx="249.7" cy="416.6" r="3.1" fill="#0085f9"/>
<circle cx="241.7" cy="418.5" r="3.1" fill="#0086f9"/>
<circle cx="253.5" cy="423.5" r="3.1" fill="#0087fa"/>
<circle cx="255.7" cy="414.3" r="3.1" fill="#008afa"/>
<circle cx="261.3" cy="419.5" r="3.1" fill="#6459da"/>
<circle cx="312.2" cy="418.9" r="3.1" fill="#ff0051"/>
<circle cx="255.9" cy="421.2" r="3.1" fill="#008bfb"/>
<circle cx="254.4" cy="416.6" r="3.1" fill="#0085f9"/>
<circle cx="245.6" cy="421.2" r="3.1" fill="#0084f9"/>
<circle cx="249.9" cy="423.5" r="3.1" fill="#008bfb"/>
<circle cx="244.5" cy="419.2" r="3.1" fill="#0084f9"/>
<circle cx="252.3" cy="421.2" r="3.1" fill="#0089fa"/>
<circle cx="251.8" cy="421.2" r="3.1" fill="#0088fa"/>
<circle cx="248.5" cy="414.3" r="3.1" fill="#008bfb"/>
<circle cx="256.3" cy="423.5" r="3.1" fill="#0083f8"/>
<circle cx="298.8" cy="418.9" r="3.1" fill="#ff0051"/>
<circle cx="249.8" cy="414.3" r="3.1" fill="#0086f9"/>
<circle cx="270.6" cy="419.2" r="3.1" fill="#ff0051"/>
<circle cx="251.5" cy="428.1" r="3.1" fill="#0087fa"/>
<circle cx="251.5" cy="414.3" r="3.1" fill="#0088fa"/>
<circle cx="288.1" cy="418.9" r="3.1" fill="#ff0051"/>
<circle cx="246.8" cy="416.6" r="3.1" fill="#0084f9"/>
<circle cx="243.5" cy="421.2" r="3.1" fill="#0084f9"/>
<circle cx="262.8" cy="419.4" r="3.1" fill="#c3009c"/>
<circle cx="258.3" cy="416.6" r="3.1" fill="#0074f0"/>
<circle cx="274.7" cy="418.5" r="3.1" fill="#ff0054"/>
<circle cx="250.4" cy="416.6" r="3.1" fill="#008afb"/>
<circle cx="266.0" cy="418.8" r="3.1" fill="#c1009d"/>
<circle cx="245.7" cy="416.6" r="3.1" fill="#0084f9"/>
<circle cx="251.6" cy="423.5" r="3.1" fill="#0087fa"/>
<circle cx="256.9" cy="416.6" r="3.1" fill="#0086f9"/>
<circle cx="252.8" cy="409.7" r="3.1" fill="#0088fa"/>
<circle cx="255.7" cy="428.1" r="3.1" fill="#008afb"/>
<circle cx="264.4" cy="418.2" r="3.1" fill="#9c23ad"/>
<circle cx="250.7" cy="425.8" r="3.1" fill="#0087fa"/>
<circle cx="244.8" cy="416.6" r="3.1" fill="#0087fa"/>
<circle cx="268.7" cy="421.2" r="3.1" fill="#fa0066"/>
<circle cx="250.5" cy="419.0" r="3.1" fill="#0088fa"/>
<circle cx="276.2" cy="419.4" r="3.1" fill="#ff005b"/>
<circle cx="252.6" cy="423.5" r="3.1" fill="#0087fa"/>
<circle cx="253.5" cy="405.1" r="3.1" fill="#0087fa"/>
<circle cx="248.5" cy="421.2" r="3.1" fill="#0084f9"/>
<circle cx="240.5" cy="418.5" r="3.1" fill="#008afb"/>
<circle cx="245.5" cy="418.6" r="3.1" fill="#0088fa"/>
<circle cx="256.5" cy="418.6" r="3.1" fill="#0087fa"/>
<circle cx="247.8" cy="421.2" r="3.1" fill="#0086fa"/>
<circle cx="258.4" cy="421.2" r="3.1" fill="#0079f3"/>
<circle cx="252.4" cy="407.4" r="3.1" fill="#008bfb"/>
<circle cx="242.5" cy="416.6" r="3.1" fill="#0084f9"/>
<circle cx="255.9" cy="416.6" r="3.1" fill="#0089fa"/>
<circle cx="260.1" cy="421.2" r="3.1" fill="#4a63e3"/>
<circle cx="253.7" cy="425.8" r="3.1" fill="#0085f9"/>
</g>
<g>
<circle cx="241.8" cy="464.1" r="3.1" fill="#c6009a"/>
<circle cx="263.4" cy="465.0" r="3.1" fill="#2d6be9"/>
<circle cx="255.3" cy="453.0" r="3.1" fill="#f10073"/>
<circle cx="256.5" cy="469.1" r="3.1" fill="#ff0051"/>
<circle cx="261.3" cy="464.6" r="3.1" fill="#7b4bcd"/>
<circle cx="255.6" cy="469.1" r="3.1" fill="#8642c5"/>
<circle cx="245.6" cy="465.0" r="3.1" fill="#7a4cce"/>
<circle cx="251.7" cy="455.3" r="3.1" fill="#bd009f"/>
<circle cx="257.1" cy="471.4" r="3.1" fill="#8344c7"/>
<circle cx="277.3" cy="464.9" r="3.1" fill="#306ae9"/>
<circle cx="223.9" cy="464.5" r="3.1" fill="#ff0051"/>
<circle cx="260.6" cy="464.3" r="3.1" fill="#db008b"/>
<circle cx="256.8" cy="473.7" r="3.1" fill="#f5006d"/>
<circle cx="250.3" cy="462.2" r="3.1" fill="#ab17a7"/>
<circle cx="247.1" cy="466.8" r="3.1" fill="#3f67e6"/>
<circle cx="254.8" cy="452.3" r="3.1" fill="#9a26af"/>
<circle cx="244.4" cy="465.0" r="3.1" fill="#bf009e"/>
<circle cx="265.4" cy="464.6" r="3.1" fill="#2e6be9"/>
<circle cx="268.6" cy="464.5" r="3.1" fill="#007cf5"/>
<circle cx="250.6" cy="469.1" r="3.1" fill="#ca0097"/>
<circle cx="254.4" cy="473.4" r="3.1" fill="#4864e4"/>
<circle cx="254.8" cy="475.8" r="3.1" fill="#0084f9"/>
<circle cx="261.5" cy="462.2" r="3.1" fill="#8840c3"/>
<circle cx="255.6" cy="464.6" r="3.1" fill="#ba00a0"/>
<circle cx="254.8" cy="464.0" r="3.1" fill="#0078f3"/>
<circle cx="255.8" cy="473.7" r="3.1" fill="#d20091"/>
<circle cx="254.5" cy="468.7" r="3.1" fill="#7b4bcd"/>
<circle cx="258.0" cy="471.4" r="3.1" fill="#9431b7"/>
<circle cx="256.9" cy="455.3" r="3.1" fill="#e7007f"/>
<circle cx="258.2" cy="466.8" r="3.1" fill="#c60099"/>
<circle cx="249.0" cy="466.8" r="3.1" fill="#d30090"/>
<circle cx="250.3" cy="471.4" r="3.1" fill="#e20084"/>
<circle cx="256.8" cy="462.2" r="3.1" fill="#b901a1"/>
<circle cx="253.0" cy="471.4" r="3.1" fill="#7251d3"/>
<circle cx="255.6" cy="476.0" r="3.1" fill="#de0087"/>
<circle cx="255.5" cy="466.8" r="3.1" fill="#893ec2"/>
<circle cx="248.2" cy="466.8" r="3.1" fill="#b40aa3"/>
<circle cx="249.3" cy="462.2" r="3.1" fill="#cb0096"/>
<circle cx="249.2" cy="465.2" r="3.1" fill="#9c23ad"/>
<circle cx="243.2" cy="464.8" r="3.1" fill="#7b4acd"/>
<circle cx="260.6" cy="462.2" r="3.1" fill="#e9007c"/>
<circle cx="254.4" cy="457.0" r="3.1" fill="#a61ca9"/>
<circle cx="251.3" cy="457.6" r="3.1" fill="#8f37bc"/>
<circle cx="255.5" cy="478.3" r="3.1" fill="#d30091"/>
<circle cx="254.2" cy="471.1" r="3.1" fill="#7351d3"/>
<circle cx="252.9" cy="466.8" r="3.1" fill="#af13a6"/>
<circle cx="251.5" cy="469.1" r="3.1" fill="#cc0096"/>
<circle cx="259.4" cy="464.2" r="3.1" fill="#883fc3"/>
<circle cx="282.1" cy="463.9" r="3.1" fill="#3b68e7"/>
<circle cx="252.8" cy="459.9" r="3.1" fill="#8e38bd"/>
<circle cx="259.4" cy="459.9" r="3.1" fill="#9234b9"/>
<circle cx="250.5" cy="459.9" r="3.1" fill="#9430b6"/>
<circle cx="270.5" cy="464.1" r="3.1" fill="#007cf5"/>
<circle cx="273.6" cy="465.2" r="3.1" fill="#0085f9"/>
<circle cx="278.8" cy="464.4" r="3.1" fill="#3868e7"/>
<circle cx="280.4" cy="464.0" r="3.1" fill="#2a6bea"/>
<circle cx="255.5" cy="471.4" r="3.1" fill="#bc009f"/>
<circle cx="252.9" cy="465.0" r="3.1" fill="#a31eab"/>
<circle cx="254.4" cy="466.4" r="3.1" fill="#e10085"/>
<circle cx="261.7" cy="466.8" r="3.1" fill="#1c6deb"/>
<circle cx="258.3" cy="459.9" r="3.1" fill="#e9007c"/>
<circle cx="250.7" cy="464.4" r="3.1" fill="#764ed0"/>
<circle cx="251.4" cy="459.9" r="3.1" fill="#9135ba"/>
<circle cx="259.5" cy="469.1" r="3.1" fill="#ff0055"/>
<circle cx="250.3" cy="466.8" r="3.1" fill="#c0009d"/>
<circle cx="252.9" cy="455.3" r="3.1" fill="#a21fab"/>
<circle cx="253.0" cy="453.0" r="3.1" fill="#f4006e"/>
<circle cx="240.4" cy="464.5" r="3.1" fill="#0082f8"/>
<circle cx="251.6" cy="464.4" r="3.1" fill="#ff005a"/>
<circle cx="255.6" cy="459.9" r="3.1" fill="#cf0094"/>
<circle cx="255.8" cy="457.6" r="3.1" fill="#ca0097"/>
<circle cx="257.0" cy="464.6" r="3.1" fill="#972cb3"/>
<circle cx="275.2" cy="464.9" r="3.1" fill="#0073ef"/>
<circle cx="253.1" cy="469.1" r="3.1" fill="#ad15a7"/>
<circle cx="254.9" cy="478.1" r="3.1" fill="#0085f9"/>
<circle cx="251.8" cy="462.2" r="3.1" fill="#e10084"/>
<circle cx="247.7" cy="462.2" r="3.1" fill="#b40ba3"/>
<circle cx="251.8" cy="466.8" r="3.1" fill="#ca0097"/>
<circle cx="251.4" cy="471.4" r="3.1" fill="#d00093"/>
<circle cx="235.0" cy="465.1" r="3.1" fill="#ff0051"/>
<circle cx="266.9" cy="464.9" r="3.1" fill="#0072ef"/>
<circle cx="257.7" cy="457.6" r="3.1" fill="#ff0051"/>
<circle cx="256.5" cy="466.8" r="3.1" fill="#fd005e"/>
<circle cx="238.6" cy="464.5" r="3.1" fill="#0080f7"/>
<circle cx="252.9" cy="457.6" r="3.1" fill="#c0009d"/>
<circle cx="258.2" cy="465.3" r="3.1" fill="#a51daa"/>
<circle cx="260.2" cy="466.8" r="3.1" fill="#a021ac"/>
<circle cx="253.0" cy="473.7" r="3.1" fill="#b509a3"/>
<circle cx="254.2" cy="459.3" r="3.1" fill="#7251d3"/>
<circle cx="252.8" cy="462.2" r="3.1" fill="#6a56d7"/>
<circle cx="256.9" cy="459.9" r="3.1" fill="#ff0052"/>
<circle cx="291.2" cy="464.5" r="3.1" fill="#0086fa"/>
<circle cx="234.3" cy="463.5" r="3.1" fill="#ff0051"/>
<circle cx="259.0" cy="466.8" r="3.1" fill="#d30091"/>
<circle cx="254.9" cy="454.6" r="3.1" fill="#9d22ad"/>
<circle cx="255.0" cy="461.7" r="3.1" fill="#962eb4"/>
<circle cx="255.8" cy="455.3" r="3.1" fill="#794dcf"/>
<circle cx="259.2" cy="462.2" r="3.1" fill="#e9007d"/>
<circle cx="247.8" cy="465.2" r="3.1" fill="#bc009f"/>
<circle cx="272.1" cy="464.5" r="3.1" fill="#0082f8"/>
<circle cx="258.2" cy="462.2" r="3.1" fill="#9e22ac"/>
<circle cx="250.3" cy="457.6" r="3.1" fill="#7b4bcd"/>
<circle cx="257.9" cy="469.1" r="3.1" fill="#d40090"/>
<circle cx="246.8" cy="464.8" r="3.1" fill="#962eb4"/>
<circle cx="254.8" cy="449.9" r="3.1" fill="#ac16a7"/>
<circle cx="256.5" cy="457.6" r="3.1" fill="#d30090"/>
<circle cx="255.3" cy="462.2" r="3.1" fill="#ff0051"/>
<circle cx="253.4" cy="474.5" r="3.1" fill="#007df6"/>
<circle cx="255.8" cy="474.7" r="3.1" fill="#0079f3"/>
<circle cx="253.8" cy="476.7" r="3.1" fill="#0081f7"/>
<circle cx="255.4" cy="476.9" r="3.1" fill="#007af4"/>
<circle cx="257.0" cy="462.5" r="3.1" fill="#ff0051"/>
<circle cx="258.2" cy="467.0" r="3.1" fill="#ff0051"/>
</g>
</g>
<text class="fn" x="48.3" y="61.6">AC</text>
<text class="fn" x="48.3" y="107.2">AD</text>
<text class="fn" x="48.3" y="152.8">STV</text>
<text class="fn" x="48.3" y="198.3">LB</text>
<text class="fn" x="48.3" y="243.9">DL</text>
<text class="fn" x="48.3" y="289.5">DAD</text>
<text class="fn" x="48.3" y="335.1">FM</text>
<text class="fn" x="48.3" y="380.7">PV</text>
<text class="fn" x="48.3" y="426.2">DVLF</text>
<text class="fn" x="48.3" y="471.8">VA</text>
<text class="tk" x="153.5" y="532.8">-1</text>
<text class="tk" x="255.4" y="532.8">0</text>
<text class="tk" x="356.9" y="532.8">1</text>
<text class="tk" x="458.4" y="532.8">2</text>
<text class="tk" x="559.8" y="532.8">3</text>
<text class="tk" x="661.3" y="532.8">4</text>
<text class="xl" x="385.5" y="557.7">SHAP value (impact on model output)</text>
<rect x="718.3" y="8.9" width="6.6" height="501.7" fill="url(#cb)"/>
<text class="cb" x="735.5" y="14.3">High</text>
<text class="cb" x="735.5" y="517">Low</text>
<text class="cl" transform="translate(785,260.4) rotate(-90)">Feature value</text>
</svg></body></html>
